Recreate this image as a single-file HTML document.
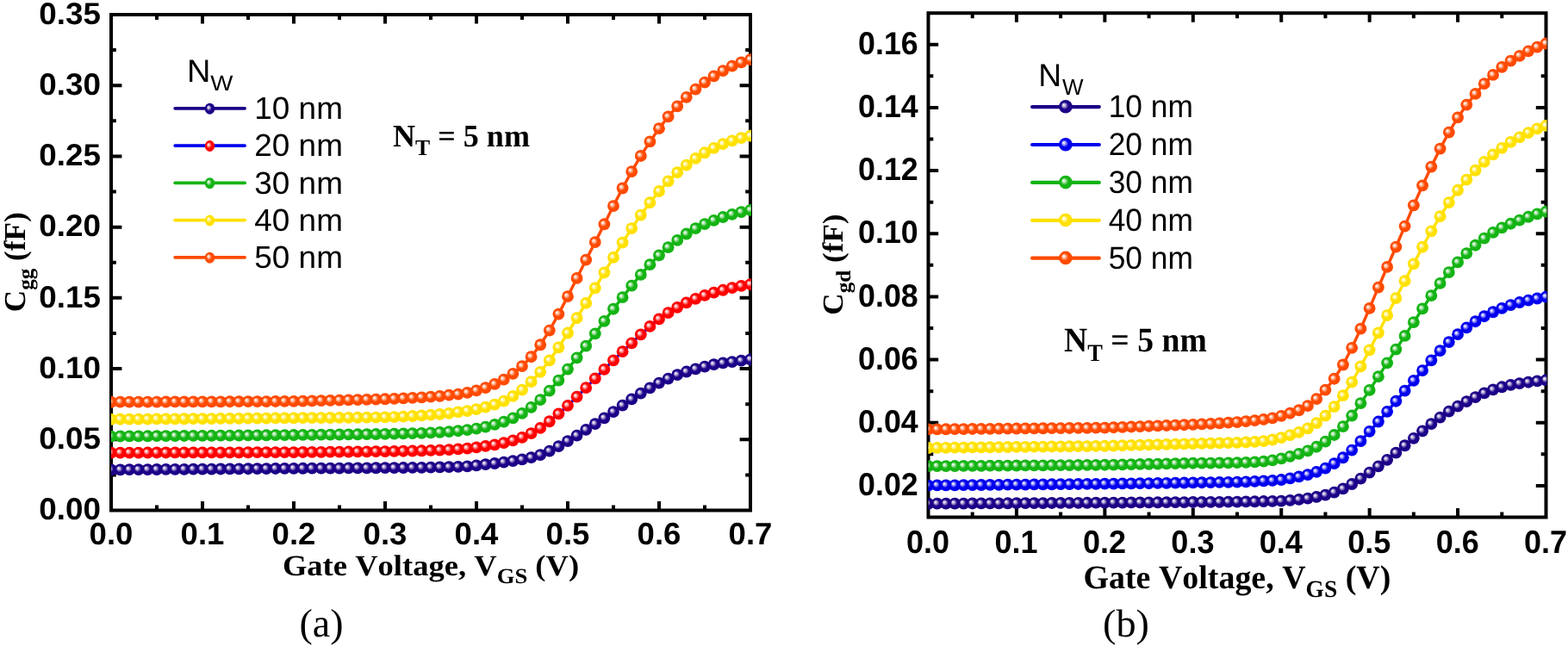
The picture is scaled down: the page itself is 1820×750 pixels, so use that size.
<!DOCTYPE html><html><head><meta charset="utf-8"><title>Cgg and Cgd vs gate voltage</title><style>html,body{margin:0;padding:0;background:#fff;overflow:hidden}svg{display:block}text{font-kerning:none;text-rendering:geometricPrecision}</style></head><body>
<svg width="1820" height="750" viewBox="0 0 1820 750">
<defs><radialGradient id="g_orange" cx="0.5" cy="0.5" r="0.5" fx="0.34" fy="0.36"><stop offset="0" stop-color="#fffaf7"/><stop offset="0.17" stop-color="#ffdbcc"/><stop offset="0.55" stop-color="#ff4a00"/><stop offset="1" stop-color="#ff4a00"/></radialGradient><radialGradient id="g_yellow" cx="0.5" cy="0.5" r="0.5" fx="0.34" fy="0.36"><stop offset="0" stop-color="#fffef7"/><stop offset="0.17" stop-color="#fff9cc"/><stop offset="0.55" stop-color="#ffe100"/><stop offset="1" stop-color="#ffe100"/></radialGradient><radialGradient id="g_green" cx="0.5" cy="0.5" r="0.5" fx="0.34" fy="0.36"><stop offset="0" stop-color="#f8fdf8"/><stop offset="0.17" stop-color="#d0f0d0"/><stop offset="0.55" stop-color="#14b414"/><stop offset="1" stop-color="#14b414"/></radialGradient><radialGradient id="g_red" cx="0.5" cy="0.5" r="0.5" fx="0.34" fy="0.36"><stop offset="0" stop-color="#fff7f7"/><stop offset="0.17" stop-color="#ffcccc"/><stop offset="0.55" stop-color="#ff0000"/><stop offset="1" stop-color="#ff0000"/></radialGradient><radialGradient id="g_blue" cx="0.5" cy="0.5" r="0.5" fx="0.34" fy="0.36"><stop offset="0" stop-color="#f7f7fe"/><stop offset="0.17" stop-color="#ccccfc"/><stop offset="0.55" stop-color="#0000ee"/><stop offset="1" stop-color="#0000ee"/></radialGradient><radialGradient id="g_navy" cx="0.5" cy="0.5" r="0.5" fx="0.34" fy="0.36"><stop offset="0" stop-color="#f8f7fb"/><stop offset="0.17" stop-color="#d2cce7"/><stop offset="0.55" stop-color="#1c0088"/><stop offset="1" stop-color="#1c0088"/></radialGradient>
<clipPath id="ca"><rect x="129" y="17" width="743" height="575.5"/></clipPath>
<clipPath id="cb"><rect x="1077.5" y="15.2" width="718.0" height="585.3"/></clipPath>
</defs>
<rect width="1820" height="750" fill="#fff"/>
<rect x="129" y="17" width="742" height="575.5" fill="none" stroke="#000" stroke-width="4.0" stroke-linejoin="miter"/><path d="M182.00 592.5V586.5M182.00 17V23M235.00 592.5V581.9M235.00 17V27.6M288.00 592.5V586.5M288.00 17V23M341.00 592.5V581.9M341.00 17V27.6M394.00 592.5V586.5M394.00 17V23M447.00 592.5V581.9M447.00 17V27.6M500.00 592.5V586.5M500.00 17V23M553.00 592.5V581.9M553.00 17V27.6M606.00 592.5V586.5M606.00 17V23M659.00 592.5V581.9M659.00 17V27.6M712.00 592.5V586.5M712.00 17V23M765.00 592.5V581.9M765.00 17V27.6M818.00 592.5V586.5M818.00 17V23M129 510.29H141.4M871 510.29H858.6M129 428.07H141.4M871 428.07H858.6M129 345.86H141.4M871 345.86H858.6M129 263.64H141.4M871 263.64H858.6M129 181.43H141.4M871 181.43H858.6M129 99.21H141.4M871 99.21H858.6M129 551.39H134.8M871 551.39H865.2M129 469.18H134.8M871 469.18H865.2M129 386.96H134.8M871 386.96H865.2M129 304.75H134.8M871 304.75H865.2M129 222.54H134.8M871 222.54H865.2M129 140.32H134.8M871 140.32H865.2M129 58.11H134.8M871 58.11H865.2" stroke="#000" stroke-width="4.0" fill="none"/>
<g clip-path="url(#ca)"><polyline points="129.00,545.33 139.60,545.28 150.20,545.21 160.80,545.14 171.40,545.07 182.00,545.00 192.60,544.93 203.20,544.86 213.80,544.79 224.40,544.72 235.00,544.65 245.60,544.57 256.20,544.49 266.80,544.41 277.40,544.32 288.00,544.24 298.60,544.16 309.20,544.08 319.80,543.99 330.40,543.91 341.00,543.83 351.60,543.77 362.20,543.71 372.80,543.65 383.40,543.59 394.00,543.53 404.60,543.46 415.20,543.39 425.80,543.33 436.40,543.25 447.00,543.17 457.60,543.10 468.20,543.01 478.80,542.91 489.40,542.79 500.00,542.63 510.60,542.43 521.20,542.17 531.80,541.83 542.40,541.31 553.00,540.32 563.60,539.15 574.20,538.00 584.80,536.68 595.40,535.18 606.00,533.42 616.60,531.20 627.20,528.05 637.80,523.65 648.40,518.20 659.00,512.06 669.60,505.53 680.20,498.86 690.80,492.16 701.40,485.29 712.00,478.09 722.60,470.61 733.20,463.42 743.80,456.69 754.40,450.44 765.00,444.62 775.60,439.55 786.20,435.21 796.80,431.52 807.40,428.34 818.00,425.54 828.60,423.17 839.20,421.43 849.80,420.09 860.40,418.70 871.00,417.30" fill="none" stroke="#1c0088" stroke-width="3.4" stroke-linejoin="round"/><circle cx="129.00" cy="545.33" r="6.9" fill="url(#g_navy)"/><circle cx="139.60" cy="545.28" r="6.9" fill="url(#g_navy)"/><circle cx="150.20" cy="545.21" r="6.9" fill="url(#g_navy)"/><circle cx="160.80" cy="545.14" r="6.9" fill="url(#g_navy)"/><circle cx="171.40" cy="545.07" r="6.9" fill="url(#g_navy)"/><circle cx="182.00" cy="545.00" r="6.9" fill="url(#g_navy)"/><circle cx="192.60" cy="544.93" r="6.9" fill="url(#g_navy)"/><circle cx="203.20" cy="544.86" r="6.9" fill="url(#g_navy)"/><circle cx="213.80" cy="544.79" r="6.9" fill="url(#g_navy)"/><circle cx="224.40" cy="544.72" r="6.9" fill="url(#g_navy)"/><circle cx="235.00" cy="544.65" r="6.9" fill="url(#g_navy)"/><circle cx="245.60" cy="544.57" r="6.9" fill="url(#g_navy)"/><circle cx="256.20" cy="544.49" r="6.9" fill="url(#g_navy)"/><circle cx="266.80" cy="544.41" r="6.9" fill="url(#g_navy)"/><circle cx="277.40" cy="544.32" r="6.9" fill="url(#g_navy)"/><circle cx="288.00" cy="544.24" r="6.9" fill="url(#g_navy)"/><circle cx="298.60" cy="544.16" r="6.9" fill="url(#g_navy)"/><circle cx="309.20" cy="544.08" r="6.9" fill="url(#g_navy)"/><circle cx="319.80" cy="543.99" r="6.9" fill="url(#g_navy)"/><circle cx="330.40" cy="543.91" r="6.9" fill="url(#g_navy)"/><circle cx="341.00" cy="543.83" r="6.9" fill="url(#g_navy)"/><circle cx="351.60" cy="543.77" r="6.9" fill="url(#g_navy)"/><circle cx="362.20" cy="543.71" r="6.9" fill="url(#g_navy)"/><circle cx="372.80" cy="543.65" r="6.9" fill="url(#g_navy)"/><circle cx="383.40" cy="543.59" r="6.9" fill="url(#g_navy)"/><circle cx="394.00" cy="543.53" r="6.9" fill="url(#g_navy)"/><circle cx="404.60" cy="543.46" r="6.9" fill="url(#g_navy)"/><circle cx="415.20" cy="543.39" r="6.9" fill="url(#g_navy)"/><circle cx="425.80" cy="543.33" r="6.9" fill="url(#g_navy)"/><circle cx="436.40" cy="543.25" r="6.9" fill="url(#g_navy)"/><circle cx="447.00" cy="543.17" r="6.9" fill="url(#g_navy)"/><circle cx="457.60" cy="543.10" r="6.9" fill="url(#g_navy)"/><circle cx="468.20" cy="543.01" r="6.9" fill="url(#g_navy)"/><circle cx="478.80" cy="542.91" r="6.9" fill="url(#g_navy)"/><circle cx="489.40" cy="542.79" r="6.9" fill="url(#g_navy)"/><circle cx="500.00" cy="542.63" r="6.9" fill="url(#g_navy)"/><circle cx="510.60" cy="542.43" r="6.9" fill="url(#g_navy)"/><circle cx="521.20" cy="542.17" r="6.9" fill="url(#g_navy)"/><circle cx="531.80" cy="541.83" r="6.9" fill="url(#g_navy)"/><circle cx="542.40" cy="541.31" r="6.9" fill="url(#g_navy)"/><circle cx="553.00" cy="540.32" r="6.9" fill="url(#g_navy)"/><circle cx="563.60" cy="539.15" r="6.9" fill="url(#g_navy)"/><circle cx="574.20" cy="538.00" r="6.9" fill="url(#g_navy)"/><circle cx="584.80" cy="536.68" r="6.9" fill="url(#g_navy)"/><circle cx="595.40" cy="535.18" r="6.9" fill="url(#g_navy)"/><circle cx="606.00" cy="533.42" r="6.9" fill="url(#g_navy)"/><circle cx="616.60" cy="531.20" r="6.9" fill="url(#g_navy)"/><circle cx="627.20" cy="528.05" r="6.9" fill="url(#g_navy)"/><circle cx="637.80" cy="523.65" r="6.9" fill="url(#g_navy)"/><circle cx="648.40" cy="518.20" r="6.9" fill="url(#g_navy)"/><circle cx="659.00" cy="512.06" r="6.9" fill="url(#g_navy)"/><circle cx="669.60" cy="505.53" r="6.9" fill="url(#g_navy)"/><circle cx="680.20" cy="498.86" r="6.9" fill="url(#g_navy)"/><circle cx="690.80" cy="492.16" r="6.9" fill="url(#g_navy)"/><circle cx="701.40" cy="485.29" r="6.9" fill="url(#g_navy)"/><circle cx="712.00" cy="478.09" r="6.9" fill="url(#g_navy)"/><circle cx="722.60" cy="470.61" r="6.9" fill="url(#g_navy)"/><circle cx="733.20" cy="463.42" r="6.9" fill="url(#g_navy)"/><circle cx="743.80" cy="456.69" r="6.9" fill="url(#g_navy)"/><circle cx="754.40" cy="450.44" r="6.9" fill="url(#g_navy)"/><circle cx="765.00" cy="444.62" r="6.9" fill="url(#g_navy)"/><circle cx="775.60" cy="439.55" r="6.9" fill="url(#g_navy)"/><circle cx="786.20" cy="435.21" r="6.9" fill="url(#g_navy)"/><circle cx="796.80" cy="431.52" r="6.9" fill="url(#g_navy)"/><circle cx="807.40" cy="428.34" r="6.9" fill="url(#g_navy)"/><circle cx="818.00" cy="425.54" r="6.9" fill="url(#g_navy)"/><circle cx="828.60" cy="423.17" r="6.9" fill="url(#g_navy)"/><circle cx="839.20" cy="421.43" r="6.9" fill="url(#g_navy)"/><circle cx="849.80" cy="420.09" r="6.9" fill="url(#g_navy)"/><circle cx="860.40" cy="418.70" r="6.9" fill="url(#g_navy)"/><circle cx="871.00" cy="417.30" r="6.9" fill="url(#g_navy)"/></g>
<g clip-path="url(#ca)"><polyline points="129.00,525.60 139.60,525.56 150.20,525.54 160.80,525.53 171.40,525.51 182.00,525.49 192.60,525.48 203.20,525.46 213.80,525.45 224.40,525.43 235.00,525.41 245.60,525.38 256.20,525.35 266.80,525.31 277.40,525.28 288.00,525.25 298.60,525.22 309.20,525.18 319.80,525.15 330.40,525.12 341.00,525.08 351.60,524.99 362.20,524.90 372.80,524.81 383.40,524.72 394.00,524.62 404.60,524.52 415.20,524.43 425.80,524.32 436.40,524.21 447.00,524.10 457.60,523.93 468.20,523.74 478.80,523.52 489.40,523.27 500.00,522.97 510.60,522.58 521.20,522.09 531.80,521.45 542.40,520.60 553.00,519.47 563.60,517.97 574.20,516.30 584.80,514.17 595.40,511.37 606.00,507.79 616.60,503.11 627.20,496.93 637.80,489.25 648.40,480.47 659.00,470.87 669.60,460.70 680.20,450.16 690.80,439.41 701.40,428.82 712.00,418.37 722.60,408.19 733.20,398.33 743.80,388.36 754.40,378.95 765.00,370.44 775.60,363.13 786.20,356.86 796.80,351.41 807.40,346.79 818.00,342.92 828.60,339.70 839.20,336.76 849.80,334.14 860.40,331.96 871.00,330.09" fill="none" stroke="#0000ee" stroke-width="3.4" stroke-linejoin="round"/><circle cx="129.00" cy="525.60" r="6.9" fill="url(#g_red)"/><circle cx="139.60" cy="525.56" r="6.9" fill="url(#g_red)"/><circle cx="150.20" cy="525.54" r="6.9" fill="url(#g_red)"/><circle cx="160.80" cy="525.53" r="6.9" fill="url(#g_red)"/><circle cx="171.40" cy="525.51" r="6.9" fill="url(#g_red)"/><circle cx="182.00" cy="525.49" r="6.9" fill="url(#g_red)"/><circle cx="192.60" cy="525.48" r="6.9" fill="url(#g_red)"/><circle cx="203.20" cy="525.46" r="6.9" fill="url(#g_red)"/><circle cx="213.80" cy="525.45" r="6.9" fill="url(#g_red)"/><circle cx="224.40" cy="525.43" r="6.9" fill="url(#g_red)"/><circle cx="235.00" cy="525.41" r="6.9" fill="url(#g_red)"/><circle cx="245.60" cy="525.38" r="6.9" fill="url(#g_red)"/><circle cx="256.20" cy="525.35" r="6.9" fill="url(#g_red)"/><circle cx="266.80" cy="525.31" r="6.9" fill="url(#g_red)"/><circle cx="277.40" cy="525.28" r="6.9" fill="url(#g_red)"/><circle cx="288.00" cy="525.25" r="6.9" fill="url(#g_red)"/><circle cx="298.60" cy="525.22" r="6.9" fill="url(#g_red)"/><circle cx="309.20" cy="525.18" r="6.9" fill="url(#g_red)"/><circle cx="319.80" cy="525.15" r="6.9" fill="url(#g_red)"/><circle cx="330.40" cy="525.12" r="6.9" fill="url(#g_red)"/><circle cx="341.00" cy="525.08" r="6.9" fill="url(#g_red)"/><circle cx="351.60" cy="524.99" r="6.9" fill="url(#g_red)"/><circle cx="362.20" cy="524.90" r="6.9" fill="url(#g_red)"/><circle cx="372.80" cy="524.81" r="6.9" fill="url(#g_red)"/><circle cx="383.40" cy="524.72" r="6.9" fill="url(#g_red)"/><circle cx="394.00" cy="524.62" r="6.9" fill="url(#g_red)"/><circle cx="404.60" cy="524.52" r="6.9" fill="url(#g_red)"/><circle cx="415.20" cy="524.43" r="6.9" fill="url(#g_red)"/><circle cx="425.80" cy="524.32" r="6.9" fill="url(#g_red)"/><circle cx="436.40" cy="524.21" r="6.9" fill="url(#g_red)"/><circle cx="447.00" cy="524.10" r="6.9" fill="url(#g_red)"/><circle cx="457.60" cy="523.93" r="6.9" fill="url(#g_red)"/><circle cx="468.20" cy="523.74" r="6.9" fill="url(#g_red)"/><circle cx="478.80" cy="523.52" r="6.9" fill="url(#g_red)"/><circle cx="489.40" cy="523.27" r="6.9" fill="url(#g_red)"/><circle cx="500.00" cy="522.97" r="6.9" fill="url(#g_red)"/><circle cx="510.60" cy="522.58" r="6.9" fill="url(#g_red)"/><circle cx="521.20" cy="522.09" r="6.9" fill="url(#g_red)"/><circle cx="531.80" cy="521.45" r="6.9" fill="url(#g_red)"/><circle cx="542.40" cy="520.60" r="6.9" fill="url(#g_red)"/><circle cx="553.00" cy="519.47" r="6.9" fill="url(#g_red)"/><circle cx="563.60" cy="517.97" r="6.9" fill="url(#g_red)"/><circle cx="574.20" cy="516.30" r="6.9" fill="url(#g_red)"/><circle cx="584.80" cy="514.17" r="6.9" fill="url(#g_red)"/><circle cx="595.40" cy="511.37" r="6.9" fill="url(#g_red)"/><circle cx="606.00" cy="507.79" r="6.9" fill="url(#g_red)"/><circle cx="616.60" cy="503.11" r="6.9" fill="url(#g_red)"/><circle cx="627.20" cy="496.93" r="6.9" fill="url(#g_red)"/><circle cx="637.80" cy="489.25" r="6.9" fill="url(#g_red)"/><circle cx="648.40" cy="480.47" r="6.9" fill="url(#g_red)"/><circle cx="659.00" cy="470.87" r="6.9" fill="url(#g_red)"/><circle cx="669.60" cy="460.70" r="6.9" fill="url(#g_red)"/><circle cx="680.20" cy="450.16" r="6.9" fill="url(#g_red)"/><circle cx="690.80" cy="439.41" r="6.9" fill="url(#g_red)"/><circle cx="701.40" cy="428.82" r="6.9" fill="url(#g_red)"/><circle cx="712.00" cy="418.37" r="6.9" fill="url(#g_red)"/><circle cx="722.60" cy="408.19" r="6.9" fill="url(#g_red)"/><circle cx="733.20" cy="398.33" r="6.9" fill="url(#g_red)"/><circle cx="743.80" cy="388.36" r="6.9" fill="url(#g_red)"/><circle cx="754.40" cy="378.95" r="6.9" fill="url(#g_red)"/><circle cx="765.00" cy="370.44" r="6.9" fill="url(#g_red)"/><circle cx="775.60" cy="363.13" r="6.9" fill="url(#g_red)"/><circle cx="786.20" cy="356.86" r="6.9" fill="url(#g_red)"/><circle cx="796.80" cy="351.41" r="6.9" fill="url(#g_red)"/><circle cx="807.40" cy="346.79" r="6.9" fill="url(#g_red)"/><circle cx="818.00" cy="342.92" r="6.9" fill="url(#g_red)"/><circle cx="828.60" cy="339.70" r="6.9" fill="url(#g_red)"/><circle cx="839.20" cy="336.76" r="6.9" fill="url(#g_red)"/><circle cx="849.80" cy="334.14" r="6.9" fill="url(#g_red)"/><circle cx="860.40" cy="331.96" r="6.9" fill="url(#g_red)"/><circle cx="871.00" cy="330.09" r="6.9" fill="url(#g_red)"/></g>
<g clip-path="url(#ca)"><polyline points="129.00,506.53 139.60,506.48 150.20,506.41 160.80,506.34 171.40,506.27 182.00,506.20 192.60,506.13 203.20,506.06 213.80,505.99 224.40,505.92 235.00,505.85 245.60,505.76 256.20,505.68 266.80,505.60 277.40,505.52 288.00,505.44 298.60,505.35 309.20,505.27 319.80,505.19 330.40,505.11 341.00,505.02 351.60,504.92 362.20,504.82 372.80,504.71 383.40,504.61 394.00,504.50 404.60,504.39 415.20,504.27 425.80,504.15 436.40,504.02 447.00,503.87 457.60,503.67 468.20,503.44 478.80,503.16 489.40,502.83 500.00,502.41 510.60,501.87 521.20,501.17 531.80,500.24 542.40,499.04 553.00,497.56 563.60,495.56 574.20,492.93 584.80,489.63 595.40,485.40 606.00,479.90 616.60,472.86 627.20,464.14 637.80,453.69 648.40,441.59 659.00,428.55 669.60,415.35 680.20,401.69 690.80,387.29 701.40,372.78 712.00,358.73 722.60,345.14 733.20,331.65 743.80,318.96 754.40,307.15 765.00,296.41 775.60,287.14 786.20,278.94 796.80,271.50 807.40,265.22 818.00,260.09 828.60,255.78 839.20,252.02 849.80,248.81 860.40,246.13 871.00,243.87" fill="none" stroke="#14b414" stroke-width="3.4" stroke-linejoin="round"/><circle cx="129.00" cy="506.53" r="6.9" fill="url(#g_green)"/><circle cx="139.60" cy="506.48" r="6.9" fill="url(#g_green)"/><circle cx="150.20" cy="506.41" r="6.9" fill="url(#g_green)"/><circle cx="160.80" cy="506.34" r="6.9" fill="url(#g_green)"/><circle cx="171.40" cy="506.27" r="6.9" fill="url(#g_green)"/><circle cx="182.00" cy="506.20" r="6.9" fill="url(#g_green)"/><circle cx="192.60" cy="506.13" r="6.9" fill="url(#g_green)"/><circle cx="203.20" cy="506.06" r="6.9" fill="url(#g_green)"/><circle cx="213.80" cy="505.99" r="6.9" fill="url(#g_green)"/><circle cx="224.40" cy="505.92" r="6.9" fill="url(#g_green)"/><circle cx="235.00" cy="505.85" r="6.9" fill="url(#g_green)"/><circle cx="245.60" cy="505.76" r="6.9" fill="url(#g_green)"/><circle cx="256.20" cy="505.68" r="6.9" fill="url(#g_green)"/><circle cx="266.80" cy="505.60" r="6.9" fill="url(#g_green)"/><circle cx="277.40" cy="505.52" r="6.9" fill="url(#g_green)"/><circle cx="288.00" cy="505.44" r="6.9" fill="url(#g_green)"/><circle cx="298.60" cy="505.35" r="6.9" fill="url(#g_green)"/><circle cx="309.20" cy="505.27" r="6.9" fill="url(#g_green)"/><circle cx="319.80" cy="505.19" r="6.9" fill="url(#g_green)"/><circle cx="330.40" cy="505.11" r="6.9" fill="url(#g_green)"/><circle cx="341.00" cy="505.02" r="6.9" fill="url(#g_green)"/><circle cx="351.60" cy="504.92" r="6.9" fill="url(#g_green)"/><circle cx="362.20" cy="504.82" r="6.9" fill="url(#g_green)"/><circle cx="372.80" cy="504.71" r="6.9" fill="url(#g_green)"/><circle cx="383.40" cy="504.61" r="6.9" fill="url(#g_green)"/><circle cx="394.00" cy="504.50" r="6.9" fill="url(#g_green)"/><circle cx="404.60" cy="504.39" r="6.9" fill="url(#g_green)"/><circle cx="415.20" cy="504.27" r="6.9" fill="url(#g_green)"/><circle cx="425.80" cy="504.15" r="6.9" fill="url(#g_green)"/><circle cx="436.40" cy="504.02" r="6.9" fill="url(#g_green)"/><circle cx="447.00" cy="503.87" r="6.9" fill="url(#g_green)"/><circle cx="457.60" cy="503.67" r="6.9" fill="url(#g_green)"/><circle cx="468.20" cy="503.44" r="6.9" fill="url(#g_green)"/><circle cx="478.80" cy="503.16" r="6.9" fill="url(#g_green)"/><circle cx="489.40" cy="502.83" r="6.9" fill="url(#g_green)"/><circle cx="500.00" cy="502.41" r="6.9" fill="url(#g_green)"/><circle cx="510.60" cy="501.87" r="6.9" fill="url(#g_green)"/><circle cx="521.20" cy="501.17" r="6.9" fill="url(#g_green)"/><circle cx="531.80" cy="500.24" r="6.9" fill="url(#g_green)"/><circle cx="542.40" cy="499.04" r="6.9" fill="url(#g_green)"/><circle cx="553.00" cy="497.56" r="6.9" fill="url(#g_green)"/><circle cx="563.60" cy="495.56" r="6.9" fill="url(#g_green)"/><circle cx="574.20" cy="492.93" r="6.9" fill="url(#g_green)"/><circle cx="584.80" cy="489.63" r="6.9" fill="url(#g_green)"/><circle cx="595.40" cy="485.40" r="6.9" fill="url(#g_green)"/><circle cx="606.00" cy="479.90" r="6.9" fill="url(#g_green)"/><circle cx="616.60" cy="472.86" r="6.9" fill="url(#g_green)"/><circle cx="627.20" cy="464.14" r="6.9" fill="url(#g_green)"/><circle cx="637.80" cy="453.69" r="6.9" fill="url(#g_green)"/><circle cx="648.40" cy="441.59" r="6.9" fill="url(#g_green)"/><circle cx="659.00" cy="428.55" r="6.9" fill="url(#g_green)"/><circle cx="669.60" cy="415.35" r="6.9" fill="url(#g_green)"/><circle cx="680.20" cy="401.69" r="6.9" fill="url(#g_green)"/><circle cx="690.80" cy="387.29" r="6.9" fill="url(#g_green)"/><circle cx="701.40" cy="372.78" r="6.9" fill="url(#g_green)"/><circle cx="712.00" cy="358.73" r="6.9" fill="url(#g_green)"/><circle cx="722.60" cy="345.14" r="6.9" fill="url(#g_green)"/><circle cx="733.20" cy="331.65" r="6.9" fill="url(#g_green)"/><circle cx="743.80" cy="318.96" r="6.9" fill="url(#g_green)"/><circle cx="754.40" cy="307.15" r="6.9" fill="url(#g_green)"/><circle cx="765.00" cy="296.41" r="6.9" fill="url(#g_green)"/><circle cx="775.60" cy="287.14" r="6.9" fill="url(#g_green)"/><circle cx="786.20" cy="278.94" r="6.9" fill="url(#g_green)"/><circle cx="796.80" cy="271.50" r="6.9" fill="url(#g_green)"/><circle cx="807.40" cy="265.22" r="6.9" fill="url(#g_green)"/><circle cx="818.00" cy="260.09" r="6.9" fill="url(#g_green)"/><circle cx="828.60" cy="255.78" r="6.9" fill="url(#g_green)"/><circle cx="839.20" cy="252.02" r="6.9" fill="url(#g_green)"/><circle cx="849.80" cy="248.81" r="6.9" fill="url(#g_green)"/><circle cx="860.40" cy="246.13" r="6.9" fill="url(#g_green)"/><circle cx="871.00" cy="243.87" r="6.9" fill="url(#g_green)"/></g>
<g clip-path="url(#ca)"><polyline points="129.00,486.81 139.60,486.73 150.20,486.66 160.80,486.59 171.40,486.53 182.00,486.46 192.60,486.39 203.20,486.32 213.80,486.25 224.40,486.18 235.00,486.11 245.60,486.03 256.20,485.95 266.80,485.87 277.40,485.79 288.00,485.70 298.60,485.62 309.20,485.54 319.80,485.46 330.40,485.38 341.00,485.29 351.60,485.22 362.20,485.15 372.80,485.08 383.40,485.01 394.00,484.93 404.60,484.86 415.20,484.77 425.80,484.68 436.40,484.59 447.00,484.47 457.60,484.03 468.20,483.55 478.80,483.02 489.40,482.43 500.00,481.72 510.60,480.87 521.20,479.81 531.80,478.46 542.40,477.03 553.00,475.14 563.60,472.71 574.20,469.63 584.80,465.53 595.40,459.97 606.00,452.57 616.60,443.19 627.20,431.80 637.80,418.47 648.40,403.32 659.00,386.51 669.60,369.24 680.20,351.97 690.80,334.35 701.40,316.48 712.00,298.92 722.60,281.72 733.20,265.11 743.80,249.65 754.40,235.24 765.00,222.02 775.60,210.28 786.20,200.24 796.80,191.67 807.40,183.97 818.00,177.27 828.60,171.82 839.20,167.19 849.80,163.28 860.40,160.18 871.00,157.62" fill="none" stroke="#ffe100" stroke-width="3.4" stroke-linejoin="round"/><circle cx="129.00" cy="486.81" r="6.9" fill="url(#g_yellow)"/><circle cx="139.60" cy="486.73" r="6.9" fill="url(#g_yellow)"/><circle cx="150.20" cy="486.66" r="6.9" fill="url(#g_yellow)"/><circle cx="160.80" cy="486.59" r="6.9" fill="url(#g_yellow)"/><circle cx="171.40" cy="486.53" r="6.9" fill="url(#g_yellow)"/><circle cx="182.00" cy="486.46" r="6.9" fill="url(#g_yellow)"/><circle cx="192.60" cy="486.39" r="6.9" fill="url(#g_yellow)"/><circle cx="203.20" cy="486.32" r="6.9" fill="url(#g_yellow)"/><circle cx="213.80" cy="486.25" r="6.9" fill="url(#g_yellow)"/><circle cx="224.40" cy="486.18" r="6.9" fill="url(#g_yellow)"/><circle cx="235.00" cy="486.11" r="6.9" fill="url(#g_yellow)"/><circle cx="245.60" cy="486.03" r="6.9" fill="url(#g_yellow)"/><circle cx="256.20" cy="485.95" r="6.9" fill="url(#g_yellow)"/><circle cx="266.80" cy="485.87" r="6.9" fill="url(#g_yellow)"/><circle cx="277.40" cy="485.79" r="6.9" fill="url(#g_yellow)"/><circle cx="288.00" cy="485.70" r="6.9" fill="url(#g_yellow)"/><circle cx="298.60" cy="485.62" r="6.9" fill="url(#g_yellow)"/><circle cx="309.20" cy="485.54" r="6.9" fill="url(#g_yellow)"/><circle cx="319.80" cy="485.46" r="6.9" fill="url(#g_yellow)"/><circle cx="330.40" cy="485.38" r="6.9" fill="url(#g_yellow)"/><circle cx="341.00" cy="485.29" r="6.9" fill="url(#g_yellow)"/><circle cx="351.60" cy="485.22" r="6.9" fill="url(#g_yellow)"/><circle cx="362.20" cy="485.15" r="6.9" fill="url(#g_yellow)"/><circle cx="372.80" cy="485.08" r="6.9" fill="url(#g_yellow)"/><circle cx="383.40" cy="485.01" r="6.9" fill="url(#g_yellow)"/><circle cx="394.00" cy="484.93" r="6.9" fill="url(#g_yellow)"/><circle cx="404.60" cy="484.86" r="6.9" fill="url(#g_yellow)"/><circle cx="415.20" cy="484.77" r="6.9" fill="url(#g_yellow)"/><circle cx="425.80" cy="484.68" r="6.9" fill="url(#g_yellow)"/><circle cx="436.40" cy="484.59" r="6.9" fill="url(#g_yellow)"/><circle cx="447.00" cy="484.47" r="6.9" fill="url(#g_yellow)"/><circle cx="457.60" cy="484.03" r="6.9" fill="url(#g_yellow)"/><circle cx="468.20" cy="483.55" r="6.9" fill="url(#g_yellow)"/><circle cx="478.80" cy="483.02" r="6.9" fill="url(#g_yellow)"/><circle cx="489.40" cy="482.43" r="6.9" fill="url(#g_yellow)"/><circle cx="500.00" cy="481.72" r="6.9" fill="url(#g_yellow)"/><circle cx="510.60" cy="480.87" r="6.9" fill="url(#g_yellow)"/><circle cx="521.20" cy="479.81" r="6.9" fill="url(#g_yellow)"/><circle cx="531.80" cy="478.46" r="6.9" fill="url(#g_yellow)"/><circle cx="542.40" cy="477.03" r="6.9" fill="url(#g_yellow)"/><circle cx="553.00" cy="475.14" r="6.9" fill="url(#g_yellow)"/><circle cx="563.60" cy="472.71" r="6.9" fill="url(#g_yellow)"/><circle cx="574.20" cy="469.63" r="6.9" fill="url(#g_yellow)"/><circle cx="584.80" cy="465.53" r="6.9" fill="url(#g_yellow)"/><circle cx="595.40" cy="459.97" r="6.9" fill="url(#g_yellow)"/><circle cx="606.00" cy="452.57" r="6.9" fill="url(#g_yellow)"/><circle cx="616.60" cy="443.19" r="6.9" fill="url(#g_yellow)"/><circle cx="627.20" cy="431.80" r="6.9" fill="url(#g_yellow)"/><circle cx="637.80" cy="418.47" r="6.9" fill="url(#g_yellow)"/><circle cx="648.40" cy="403.32" r="6.9" fill="url(#g_yellow)"/><circle cx="659.00" cy="386.51" r="6.9" fill="url(#g_yellow)"/><circle cx="669.60" cy="369.24" r="6.9" fill="url(#g_yellow)"/><circle cx="680.20" cy="351.97" r="6.9" fill="url(#g_yellow)"/><circle cx="690.80" cy="334.35" r="6.9" fill="url(#g_yellow)"/><circle cx="701.40" cy="316.48" r="6.9" fill="url(#g_yellow)"/><circle cx="712.00" cy="298.92" r="6.9" fill="url(#g_yellow)"/><circle cx="722.60" cy="281.72" r="6.9" fill="url(#g_yellow)"/><circle cx="733.20" cy="265.11" r="6.9" fill="url(#g_yellow)"/><circle cx="743.80" cy="249.65" r="6.9" fill="url(#g_yellow)"/><circle cx="754.40" cy="235.24" r="6.9" fill="url(#g_yellow)"/><circle cx="765.00" cy="222.02" r="6.9" fill="url(#g_yellow)"/><circle cx="775.60" cy="210.28" r="6.9" fill="url(#g_yellow)"/><circle cx="786.20" cy="200.24" r="6.9" fill="url(#g_yellow)"/><circle cx="796.80" cy="191.67" r="6.9" fill="url(#g_yellow)"/><circle cx="807.40" cy="183.97" r="6.9" fill="url(#g_yellow)"/><circle cx="818.00" cy="177.27" r="6.9" fill="url(#g_yellow)"/><circle cx="828.60" cy="171.82" r="6.9" fill="url(#g_yellow)"/><circle cx="839.20" cy="167.19" r="6.9" fill="url(#g_yellow)"/><circle cx="849.80" cy="163.28" r="6.9" fill="url(#g_yellow)"/><circle cx="860.40" cy="160.18" r="6.9" fill="url(#g_yellow)"/><circle cx="871.00" cy="157.62" r="6.9" fill="url(#g_yellow)"/></g>
<g clip-path="url(#ca)"><polyline points="129.00,466.77 139.60,466.65 150.20,466.62 160.80,466.59 171.40,466.56 182.00,466.53 192.60,466.50 203.20,466.47 213.80,466.44 224.40,466.41 235.00,466.38 245.60,466.33 256.20,466.28 266.80,466.24 277.40,466.19 288.00,466.14 298.60,466.09 309.20,466.04 319.80,465.99 330.40,465.94 341.00,465.89 351.60,465.63 362.20,465.38 372.80,465.12 383.40,464.86 394.00,464.60 404.60,464.34 415.20,464.08 425.80,463.81 436.40,463.54 447.00,463.26 457.60,462.82 468.20,462.35 478.80,461.85 489.40,461.28 500.00,460.60 510.60,459.78 521.20,458.72 531.80,457.61 542.40,455.92 553.00,453.41 563.60,450.07 574.20,445.88 584.80,440.63 595.40,433.78 606.00,425.08 616.60,414.24 627.20,400.25 637.80,383.54 648.40,364.59 659.00,344.15 669.60,322.90 680.20,301.70 690.80,281.10 701.40,260.27 712.00,239.08 722.60,218.50 733.20,199.03 743.80,180.98 754.40,164.42 765.00,149.13 775.60,135.47 786.20,123.42 796.80,112.78 807.40,103.62 818.00,95.62 828.60,88.44 839.20,82.06 849.80,76.68 860.40,72.45 871.00,69.10" fill="none" stroke="#ff4a00" stroke-width="3.4" stroke-linejoin="round"/><circle cx="129.00" cy="466.77" r="6.9" fill="url(#g_orange)"/><circle cx="139.60" cy="466.65" r="6.9" fill="url(#g_orange)"/><circle cx="150.20" cy="466.62" r="6.9" fill="url(#g_orange)"/><circle cx="160.80" cy="466.59" r="6.9" fill="url(#g_orange)"/><circle cx="171.40" cy="466.56" r="6.9" fill="url(#g_orange)"/><circle cx="182.00" cy="466.53" r="6.9" fill="url(#g_orange)"/><circle cx="192.60" cy="466.50" r="6.9" fill="url(#g_orange)"/><circle cx="203.20" cy="466.47" r="6.9" fill="url(#g_orange)"/><circle cx="213.80" cy="466.44" r="6.9" fill="url(#g_orange)"/><circle cx="224.40" cy="466.41" r="6.9" fill="url(#g_orange)"/><circle cx="235.00" cy="466.38" r="6.9" fill="url(#g_orange)"/><circle cx="245.60" cy="466.33" r="6.9" fill="url(#g_orange)"/><circle cx="256.20" cy="466.28" r="6.9" fill="url(#g_orange)"/><circle cx="266.80" cy="466.24" r="6.9" fill="url(#g_orange)"/><circle cx="277.40" cy="466.19" r="6.9" fill="url(#g_orange)"/><circle cx="288.00" cy="466.14" r="6.9" fill="url(#g_orange)"/><circle cx="298.60" cy="466.09" r="6.9" fill="url(#g_orange)"/><circle cx="309.20" cy="466.04" r="6.9" fill="url(#g_orange)"/><circle cx="319.80" cy="465.99" r="6.9" fill="url(#g_orange)"/><circle cx="330.40" cy="465.94" r="6.9" fill="url(#g_orange)"/><circle cx="341.00" cy="465.89" r="6.9" fill="url(#g_orange)"/><circle cx="351.60" cy="465.63" r="6.9" fill="url(#g_orange)"/><circle cx="362.20" cy="465.38" r="6.9" fill="url(#g_orange)"/><circle cx="372.80" cy="465.12" r="6.9" fill="url(#g_orange)"/><circle cx="383.40" cy="464.86" r="6.9" fill="url(#g_orange)"/><circle cx="394.00" cy="464.60" r="6.9" fill="url(#g_orange)"/><circle cx="404.60" cy="464.34" r="6.9" fill="url(#g_orange)"/><circle cx="415.20" cy="464.08" r="6.9" fill="url(#g_orange)"/><circle cx="425.80" cy="463.81" r="6.9" fill="url(#g_orange)"/><circle cx="436.40" cy="463.54" r="6.9" fill="url(#g_orange)"/><circle cx="447.00" cy="463.26" r="6.9" fill="url(#g_orange)"/><circle cx="457.60" cy="462.82" r="6.9" fill="url(#g_orange)"/><circle cx="468.20" cy="462.35" r="6.9" fill="url(#g_orange)"/><circle cx="478.80" cy="461.85" r="6.9" fill="url(#g_orange)"/><circle cx="489.40" cy="461.28" r="6.9" fill="url(#g_orange)"/><circle cx="500.00" cy="460.60" r="6.9" fill="url(#g_orange)"/><circle cx="510.60" cy="459.78" r="6.9" fill="url(#g_orange)"/><circle cx="521.20" cy="458.72" r="6.9" fill="url(#g_orange)"/><circle cx="531.80" cy="457.61" r="6.9" fill="url(#g_orange)"/><circle cx="542.40" cy="455.92" r="6.9" fill="url(#g_orange)"/><circle cx="553.00" cy="453.41" r="6.9" fill="url(#g_orange)"/><circle cx="563.60" cy="450.07" r="6.9" fill="url(#g_orange)"/><circle cx="574.20" cy="445.88" r="6.9" fill="url(#g_orange)"/><circle cx="584.80" cy="440.63" r="6.9" fill="url(#g_orange)"/><circle cx="595.40" cy="433.78" r="6.9" fill="url(#g_orange)"/><circle cx="606.00" cy="425.08" r="6.9" fill="url(#g_orange)"/><circle cx="616.60" cy="414.24" r="6.9" fill="url(#g_orange)"/><circle cx="627.20" cy="400.25" r="6.9" fill="url(#g_orange)"/><circle cx="637.80" cy="383.54" r="6.9" fill="url(#g_orange)"/><circle cx="648.40" cy="364.59" r="6.9" fill="url(#g_orange)"/><circle cx="659.00" cy="344.15" r="6.9" fill="url(#g_orange)"/><circle cx="669.60" cy="322.90" r="6.9" fill="url(#g_orange)"/><circle cx="680.20" cy="301.70" r="6.9" fill="url(#g_orange)"/><circle cx="690.80" cy="281.10" r="6.9" fill="url(#g_orange)"/><circle cx="701.40" cy="260.27" r="6.9" fill="url(#g_orange)"/><circle cx="712.00" cy="239.08" r="6.9" fill="url(#g_orange)"/><circle cx="722.60" cy="218.50" r="6.9" fill="url(#g_orange)"/><circle cx="733.20" cy="199.03" r="6.9" fill="url(#g_orange)"/><circle cx="743.80" cy="180.98" r="6.9" fill="url(#g_orange)"/><circle cx="754.40" cy="164.42" r="6.9" fill="url(#g_orange)"/><circle cx="765.00" cy="149.13" r="6.9" fill="url(#g_orange)"/><circle cx="775.60" cy="135.47" r="6.9" fill="url(#g_orange)"/><circle cx="786.20" cy="123.42" r="6.9" fill="url(#g_orange)"/><circle cx="796.80" cy="112.78" r="6.9" fill="url(#g_orange)"/><circle cx="807.40" cy="103.62" r="6.9" fill="url(#g_orange)"/><circle cx="818.00" cy="95.62" r="6.9" fill="url(#g_orange)"/><circle cx="828.60" cy="88.44" r="6.9" fill="url(#g_orange)"/><circle cx="839.20" cy="82.06" r="6.9" fill="url(#g_orange)"/><circle cx="849.80" cy="76.68" r="6.9" fill="url(#g_orange)"/><circle cx="860.40" cy="72.45" r="6.9" fill="url(#g_orange)"/><circle cx="871.00" cy="69.10" r="6.9" fill="url(#g_orange)"/></g>
<text transform="translate(116.95,603.30) scale(1.0220,0.9900)" text-anchor="end" style="font-family:&quot;Liberation Sans&quot;,Arial,sans-serif;font-weight:bold;font-size:36px">0.00</text>
<text transform="translate(116.95,521.09) scale(1.0220,0.9900)" text-anchor="end" style="font-family:&quot;Liberation Sans&quot;,Arial,sans-serif;font-weight:bold;font-size:36px">0.05</text>
<text transform="translate(116.95,438.87) scale(1.0220,0.9900)" text-anchor="end" style="font-family:&quot;Liberation Sans&quot;,Arial,sans-serif;font-weight:bold;font-size:36px">0.10</text>
<text transform="translate(116.95,356.66) scale(1.0220,0.9900)" text-anchor="end" style="font-family:&quot;Liberation Sans&quot;,Arial,sans-serif;font-weight:bold;font-size:36px">0.15</text>
<text transform="translate(116.95,274.44) scale(1.0220,0.9900)" text-anchor="end" style="font-family:&quot;Liberation Sans&quot;,Arial,sans-serif;font-weight:bold;font-size:36px">0.20</text>
<text transform="translate(116.95,192.23) scale(1.0220,0.9900)" text-anchor="end" style="font-family:&quot;Liberation Sans&quot;,Arial,sans-serif;font-weight:bold;font-size:36px">0.25</text>
<text transform="translate(116.95,110.01) scale(1.0220,0.9900)" text-anchor="end" style="font-family:&quot;Liberation Sans&quot;,Arial,sans-serif;font-weight:bold;font-size:36px">0.30</text>
<text transform="translate(116.95,27.80) scale(1.0220,0.9900)" text-anchor="end" style="font-family:&quot;Liberation Sans&quot;,Arial,sans-serif;font-weight:bold;font-size:36px">0.35</text>
<text transform="translate(129.00,632.40) scale(1.0150,1.0000)" text-anchor="middle" style="font-family:&quot;Liberation Sans&quot;,Arial,sans-serif;font-weight:bold;font-size:36px">0.0</text>
<text transform="translate(235.00,632.40) scale(1.0150,1.0000)" text-anchor="middle" style="font-family:&quot;Liberation Sans&quot;,Arial,sans-serif;font-weight:bold;font-size:36px">0.1</text>
<text transform="translate(341.00,632.40) scale(1.0150,1.0000)" text-anchor="middle" style="font-family:&quot;Liberation Sans&quot;,Arial,sans-serif;font-weight:bold;font-size:36px">0.2</text>
<text transform="translate(447.00,632.40) scale(1.0150,1.0000)" text-anchor="middle" style="font-family:&quot;Liberation Sans&quot;,Arial,sans-serif;font-weight:bold;font-size:36px">0.3</text>
<text transform="translate(553.00,632.40) scale(1.0150,1.0000)" text-anchor="middle" style="font-family:&quot;Liberation Sans&quot;,Arial,sans-serif;font-weight:bold;font-size:36px">0.4</text>
<text transform="translate(659.00,632.40) scale(1.0150,1.0000)" text-anchor="middle" style="font-family:&quot;Liberation Sans&quot;,Arial,sans-serif;font-weight:bold;font-size:36px">0.5</text>
<text transform="translate(765.00,632.40) scale(1.0150,1.0000)" text-anchor="middle" style="font-family:&quot;Liberation Sans&quot;,Arial,sans-serif;font-weight:bold;font-size:36px">0.6</text>
<text transform="translate(871.00,632.40) scale(1.0150,1.0000)" text-anchor="middle" style="font-family:&quot;Liberation Sans&quot;,Arial,sans-serif;font-weight:bold;font-size:36px">0.7</text>
<text transform="translate(327.89,668.22) scale(1.0447,0.9755)" text-anchor="start" style="font-family:&quot;Liberation Serif&quot;,&quot;Times New Roman&quot;,serif;font-weight:bold;font-size:35px">Gate Voltage, V<tspan dy="9" font-size="25.5px">GS</tspan><tspan dy="-9"> (V)</tspan></text>
<text transform="translate(28.60,304.25) scale(1.0027,1.0047) rotate(-90)" text-anchor="middle" style="font-family:&quot;Liberation Serif&quot;,&quot;Times New Roman&quot;,serif;font-weight:bold;font-size:35px">C<tspan dy="9" font-size="25px">gg</tspan><tspan dy="-9"> (fF)</tspan></text>
<text transform="translate(455.99,170.44) scale(1.0304,1.0435)" text-anchor="start" style="font-family:&quot;Liberation Serif&quot;,&quot;Times New Roman&quot;,serif;font-weight:bold;font-size:35px">N<tspan dy="9" font-size="25px">T</tspan><tspan dy="-9"> = 5 nm</tspan></text>
<text transform="translate(217.09,94.93) scale(1.0847,1.0545)" text-anchor="start" style="font-family:&quot;Liberation Sans&quot;,Arial,sans-serif;font-size:35px">N</text>
<text transform="translate(244.22,104.68) scale(1.1265,1.0217)" text-anchor="start" style="font-family:&quot;Liberation Sans&quot;,Arial,sans-serif;font-size:24.6px">W</text>
<line x1="203.2" y1="125.8" x2="284.1" y2="125.8" stroke="#1c0088" stroke-width="3.8" stroke-linecap="round"/>
<ellipse cx="243.5" cy="126.2" rx="5.7" ry="6.5" fill="url(#g_navy)"/>
<text transform="translate(295.31,138.30) scale(1.0253,1.0107)" text-anchor="start" style="font-family:&quot;Liberation Sans&quot;,Arial,sans-serif;font-size:36px">10 nm</text>
<line x1="203.2" y1="169.1" x2="284.1" y2="169.1" stroke="#0000ee" stroke-width="3.8" stroke-linecap="round"/>
<ellipse cx="243.5" cy="169.5" rx="5.7" ry="6.5" fill="url(#g_red)"/>
<text transform="translate(295.31,181.40) scale(1.0253,1.0107)" text-anchor="start" style="font-family:&quot;Liberation Sans&quot;,Arial,sans-serif;font-size:36px">20 nm</text>
<line x1="203.2" y1="212.3" x2="284.1" y2="212.3" stroke="#14b414" stroke-width="3.8" stroke-linecap="round"/>
<ellipse cx="243.5" cy="212.7" rx="5.7" ry="6.5" fill="url(#g_green)"/>
<text transform="translate(295.31,224.50) scale(1.0253,1.0107)" text-anchor="start" style="font-family:&quot;Liberation Sans&quot;,Arial,sans-serif;font-size:36px">30 nm</text>
<line x1="203.2" y1="255.6" x2="284.1" y2="255.6" stroke="#ffe100" stroke-width="3.8" stroke-linecap="round"/>
<ellipse cx="243.5" cy="256.0" rx="5.7" ry="6.5" fill="url(#g_yellow)"/>
<text transform="translate(295.31,267.60) scale(1.0253,1.0107)" text-anchor="start" style="font-family:&quot;Liberation Sans&quot;,Arial,sans-serif;font-size:36px">40 nm</text>
<line x1="203.2" y1="298.8" x2="284.1" y2="298.8" stroke="#ff4a00" stroke-width="3.8" stroke-linecap="round"/>
<ellipse cx="243.5" cy="299.2" rx="5.7" ry="6.5" fill="url(#g_orange)"/>
<text transform="translate(295.31,310.70) scale(1.0253,1.0107)" text-anchor="start" style="font-family:&quot;Liberation Sans&quot;,Arial,sans-serif;font-size:36px">50 nm</text>
<text transform="translate(347.50,738.65) scale(0.9583,0.9633)" text-anchor="start" style="font-family:&quot;Liberation Serif&quot;,&quot;Times New Roman&quot;,serif;font-size:48px">(a)</text>
<rect x="1077.5" y="15.2" width="717.0" height="585.3" fill="none" stroke="#000" stroke-width="4.0" stroke-linejoin="miter"/><path d="M1128.71 600.5V594.5M1128.71 15.2V21.2M1179.93 600.5V589.9M1179.93 15.2V25.799999999999997M1231.14 600.5V594.5M1231.14 15.2V21.2M1282.36 600.5V589.9M1282.36 15.2V25.799999999999997M1333.57 600.5V594.5M1333.57 15.2V21.2M1384.79 600.5V589.9M1384.79 15.2V25.799999999999997M1436.00 600.5V594.5M1436.00 15.2V21.2M1487.21 600.5V589.9M1487.21 15.2V25.799999999999997M1538.43 600.5V594.5M1538.43 15.2V21.2M1589.64 600.5V589.9M1589.64 15.2V25.799999999999997M1640.86 600.5V594.5M1640.86 15.2V21.2M1692.07 600.5V589.9M1692.07 15.2V25.799999999999997M1743.29 600.5V594.5M1743.29 15.2V21.2M1077.5 563.92H1089.2M1794.5 563.92H1782.8M1077.5 490.76H1089.2M1794.5 490.76H1782.8M1077.5 417.59H1089.2M1794.5 417.59H1782.8M1077.5 344.43H1089.2M1794.5 344.43H1782.8M1077.5 271.27H1089.2M1794.5 271.27H1782.8M1077.5 198.11H1089.2M1794.5 198.11H1782.8M1077.5 124.94H1089.2M1794.5 124.94H1782.8M1077.5 51.78H1089.2M1794.5 51.78H1782.8M1077.5 527.34H1083.3M1794.5 527.34H1788.7M1077.5 454.18H1083.3M1794.5 454.18H1788.7M1077.5 381.01H1083.3M1794.5 381.01H1788.7M1077.5 307.85H1083.3M1794.5 307.85H1788.7M1077.5 234.69H1083.3M1794.5 234.69H1788.7M1077.5 161.53H1083.3M1794.5 161.53H1788.7M1077.5 88.36H1083.3M1794.5 88.36H1788.7" stroke="#000" stroke-width="4.0" fill="none"/>
<g clip-path="url(#cb)"><polyline points="1077.50,584.77 1087.74,584.71 1097.99,584.66 1108.23,584.60 1118.47,584.55 1128.71,584.49 1138.96,584.44 1149.20,584.38 1159.44,584.33 1169.69,584.27 1179.93,584.22 1190.17,584.16 1200.41,584.11 1210.66,584.05 1220.90,583.99 1231.14,583.94 1241.39,583.88 1251.63,583.83 1261.87,583.77 1272.11,583.72 1282.36,583.66 1292.60,583.59 1302.84,583.53 1313.09,583.47 1323.33,583.40 1333.57,583.33 1343.81,583.27 1354.06,583.20 1364.30,583.13 1374.54,583.07 1384.79,582.99 1395.03,582.92 1405.27,582.86 1415.51,582.79 1425.76,582.71 1436.00,582.60 1446.24,582.46 1456.49,582.27 1466.73,582.01 1476.97,581.89 1487.21,581.59 1497.46,580.90 1507.70,579.93 1517.94,578.60 1528.19,576.89 1538.43,574.68 1548.67,571.58 1558.91,567.39 1569.16,562.02 1579.40,555.59 1589.64,548.57 1599.89,541.35 1610.13,533.81 1620.37,525.72 1630.61,517.25 1640.86,508.78 1651.10,500.32 1661.34,492.18 1671.59,484.58 1681.83,477.71 1692.07,471.64 1702.31,466.13 1712.56,461.04 1722.80,456.42 1733.04,452.45 1743.29,449.27 1753.53,446.89 1763.77,445.13 1774.01,443.74 1784.26,442.46 1794.50,441.26" fill="none" stroke="#1c0088" stroke-width="3.4" stroke-linejoin="round"/><circle cx="1077.50" cy="584.77" r="6.9" fill="url(#g_navy)"/><circle cx="1087.74" cy="584.71" r="6.9" fill="url(#g_navy)"/><circle cx="1097.99" cy="584.66" r="6.9" fill="url(#g_navy)"/><circle cx="1108.23" cy="584.60" r="6.9" fill="url(#g_navy)"/><circle cx="1118.47" cy="584.55" r="6.9" fill="url(#g_navy)"/><circle cx="1128.71" cy="584.49" r="6.9" fill="url(#g_navy)"/><circle cx="1138.96" cy="584.44" r="6.9" fill="url(#g_navy)"/><circle cx="1149.20" cy="584.38" r="6.9" fill="url(#g_navy)"/><circle cx="1159.44" cy="584.33" r="6.9" fill="url(#g_navy)"/><circle cx="1169.69" cy="584.27" r="6.9" fill="url(#g_navy)"/><circle cx="1179.93" cy="584.22" r="6.9" fill="url(#g_navy)"/><circle cx="1190.17" cy="584.16" r="6.9" fill="url(#g_navy)"/><circle cx="1200.41" cy="584.11" r="6.9" fill="url(#g_navy)"/><circle cx="1210.66" cy="584.05" r="6.9" fill="url(#g_navy)"/><circle cx="1220.90" cy="583.99" r="6.9" fill="url(#g_navy)"/><circle cx="1231.14" cy="583.94" r="6.9" fill="url(#g_navy)"/><circle cx="1241.39" cy="583.88" r="6.9" fill="url(#g_navy)"/><circle cx="1251.63" cy="583.83" r="6.9" fill="url(#g_navy)"/><circle cx="1261.87" cy="583.77" r="6.9" fill="url(#g_navy)"/><circle cx="1272.11" cy="583.72" r="6.9" fill="url(#g_navy)"/><circle cx="1282.36" cy="583.66" r="6.9" fill="url(#g_navy)"/><circle cx="1292.60" cy="583.59" r="6.9" fill="url(#g_navy)"/><circle cx="1302.84" cy="583.53" r="6.9" fill="url(#g_navy)"/><circle cx="1313.09" cy="583.47" r="6.9" fill="url(#g_navy)"/><circle cx="1323.33" cy="583.40" r="6.9" fill="url(#g_navy)"/><circle cx="1333.57" cy="583.33" r="6.9" fill="url(#g_navy)"/><circle cx="1343.81" cy="583.27" r="6.9" fill="url(#g_navy)"/><circle cx="1354.06" cy="583.20" r="6.9" fill="url(#g_navy)"/><circle cx="1364.30" cy="583.13" r="6.9" fill="url(#g_navy)"/><circle cx="1374.54" cy="583.07" r="6.9" fill="url(#g_navy)"/><circle cx="1384.79" cy="582.99" r="6.9" fill="url(#g_navy)"/><circle cx="1395.03" cy="582.92" r="6.9" fill="url(#g_navy)"/><circle cx="1405.27" cy="582.86" r="6.9" fill="url(#g_navy)"/><circle cx="1415.51" cy="582.79" r="6.9" fill="url(#g_navy)"/><circle cx="1425.76" cy="582.71" r="6.9" fill="url(#g_navy)"/><circle cx="1436.00" cy="582.60" r="6.9" fill="url(#g_navy)"/><circle cx="1446.24" cy="582.46" r="6.9" fill="url(#g_navy)"/><circle cx="1456.49" cy="582.27" r="6.9" fill="url(#g_navy)"/><circle cx="1466.73" cy="582.01" r="6.9" fill="url(#g_navy)"/><circle cx="1476.97" cy="581.89" r="6.9" fill="url(#g_navy)"/><circle cx="1487.21" cy="581.59" r="6.9" fill="url(#g_navy)"/><circle cx="1497.46" cy="580.90" r="6.9" fill="url(#g_navy)"/><circle cx="1507.70" cy="579.93" r="6.9" fill="url(#g_navy)"/><circle cx="1517.94" cy="578.60" r="6.9" fill="url(#g_navy)"/><circle cx="1528.19" cy="576.89" r="6.9" fill="url(#g_navy)"/><circle cx="1538.43" cy="574.68" r="6.9" fill="url(#g_navy)"/><circle cx="1548.67" cy="571.58" r="6.9" fill="url(#g_navy)"/><circle cx="1558.91" cy="567.39" r="6.9" fill="url(#g_navy)"/><circle cx="1569.16" cy="562.02" r="6.9" fill="url(#g_navy)"/><circle cx="1579.40" cy="555.59" r="6.9" fill="url(#g_navy)"/><circle cx="1589.64" cy="548.57" r="6.9" fill="url(#g_navy)"/><circle cx="1599.89" cy="541.35" r="6.9" fill="url(#g_navy)"/><circle cx="1610.13" cy="533.81" r="6.9" fill="url(#g_navy)"/><circle cx="1620.37" cy="525.72" r="6.9" fill="url(#g_navy)"/><circle cx="1630.61" cy="517.25" r="6.9" fill="url(#g_navy)"/><circle cx="1640.86" cy="508.78" r="6.9" fill="url(#g_navy)"/><circle cx="1651.10" cy="500.32" r="6.9" fill="url(#g_navy)"/><circle cx="1661.34" cy="492.18" r="6.9" fill="url(#g_navy)"/><circle cx="1671.59" cy="484.58" r="6.9" fill="url(#g_navy)"/><circle cx="1681.83" cy="477.71" r="6.9" fill="url(#g_navy)"/><circle cx="1692.07" cy="471.64" r="6.9" fill="url(#g_navy)"/><circle cx="1702.31" cy="466.13" r="6.9" fill="url(#g_navy)"/><circle cx="1712.56" cy="461.04" r="6.9" fill="url(#g_navy)"/><circle cx="1722.80" cy="456.42" r="6.9" fill="url(#g_navy)"/><circle cx="1733.04" cy="452.45" r="6.9" fill="url(#g_navy)"/><circle cx="1743.29" cy="449.27" r="6.9" fill="url(#g_navy)"/><circle cx="1753.53" cy="446.89" r="6.9" fill="url(#g_navy)"/><circle cx="1763.77" cy="445.13" r="6.9" fill="url(#g_navy)"/><circle cx="1774.01" cy="443.74" r="6.9" fill="url(#g_navy)"/><circle cx="1784.26" cy="442.46" r="6.9" fill="url(#g_navy)"/><circle cx="1794.50" cy="441.26" r="6.9" fill="url(#g_navy)"/></g>
<g clip-path="url(#cb)"><polyline points="1077.50,563.55 1087.74,563.46 1097.99,563.37 1108.23,563.28 1118.47,563.18 1128.71,563.09 1138.96,563.00 1149.20,562.91 1159.44,562.81 1169.69,562.72 1179.93,562.63 1190.17,562.54 1200.41,562.44 1210.66,562.35 1220.90,562.26 1231.14,562.17 1241.39,562.08 1251.63,561.98 1261.87,561.89 1272.11,561.80 1282.36,561.70 1292.60,561.57 1302.84,561.44 1313.09,561.31 1323.33,561.18 1333.57,561.05 1343.81,560.92 1354.06,560.78 1364.30,560.65 1374.54,560.51 1384.79,560.37 1395.03,560.23 1405.27,560.10 1415.51,559.96 1425.76,559.78 1436.00,559.57 1446.24,559.28 1456.49,558.89 1466.73,558.36 1476.97,557.94 1487.21,557.01 1497.46,555.39 1507.70,553.43 1517.94,551.06 1528.19,547.87 1538.43,543.63 1548.67,538.14 1558.91,531.25 1569.16,522.53 1579.40,512.14 1589.64,500.83 1599.89,489.52 1610.13,477.85 1620.37,465.73 1630.61,453.68 1640.86,441.83 1651.10,430.12 1661.34,418.35 1671.59,407.17 1681.83,397.10 1692.07,388.19 1702.31,380.32 1712.56,373.24 1722.80,367.24 1733.04,362.25 1743.29,357.89 1753.53,354.10 1763.77,351.01 1774.01,348.53 1784.26,346.50 1794.50,344.67" fill="none" stroke="#0000ee" stroke-width="3.4" stroke-linejoin="round"/><circle cx="1077.50" cy="563.55" r="6.9" fill="url(#g_blue)"/><circle cx="1087.74" cy="563.46" r="6.9" fill="url(#g_blue)"/><circle cx="1097.99" cy="563.37" r="6.9" fill="url(#g_blue)"/><circle cx="1108.23" cy="563.28" r="6.9" fill="url(#g_blue)"/><circle cx="1118.47" cy="563.18" r="6.9" fill="url(#g_blue)"/><circle cx="1128.71" cy="563.09" r="6.9" fill="url(#g_blue)"/><circle cx="1138.96" cy="563.00" r="6.9" fill="url(#g_blue)"/><circle cx="1149.20" cy="562.91" r="6.9" fill="url(#g_blue)"/><circle cx="1159.44" cy="562.81" r="6.9" fill="url(#g_blue)"/><circle cx="1169.69" cy="562.72" r="6.9" fill="url(#g_blue)"/><circle cx="1179.93" cy="562.63" r="6.9" fill="url(#g_blue)"/><circle cx="1190.17" cy="562.54" r="6.9" fill="url(#g_blue)"/><circle cx="1200.41" cy="562.44" r="6.9" fill="url(#g_blue)"/><circle cx="1210.66" cy="562.35" r="6.9" fill="url(#g_blue)"/><circle cx="1220.90" cy="562.26" r="6.9" fill="url(#g_blue)"/><circle cx="1231.14" cy="562.17" r="6.9" fill="url(#g_blue)"/><circle cx="1241.39" cy="562.08" r="6.9" fill="url(#g_blue)"/><circle cx="1251.63" cy="561.98" r="6.9" fill="url(#g_blue)"/><circle cx="1261.87" cy="561.89" r="6.9" fill="url(#g_blue)"/><circle cx="1272.11" cy="561.80" r="6.9" fill="url(#g_blue)"/><circle cx="1282.36" cy="561.70" r="6.9" fill="url(#g_blue)"/><circle cx="1292.60" cy="561.57" r="6.9" fill="url(#g_blue)"/><circle cx="1302.84" cy="561.44" r="6.9" fill="url(#g_blue)"/><circle cx="1313.09" cy="561.31" r="6.9" fill="url(#g_blue)"/><circle cx="1323.33" cy="561.18" r="6.9" fill="url(#g_blue)"/><circle cx="1333.57" cy="561.05" r="6.9" fill="url(#g_blue)"/><circle cx="1343.81" cy="560.92" r="6.9" fill="url(#g_blue)"/><circle cx="1354.06" cy="560.78" r="6.9" fill="url(#g_blue)"/><circle cx="1364.30" cy="560.65" r="6.9" fill="url(#g_blue)"/><circle cx="1374.54" cy="560.51" r="6.9" fill="url(#g_blue)"/><circle cx="1384.79" cy="560.37" r="6.9" fill="url(#g_blue)"/><circle cx="1395.03" cy="560.23" r="6.9" fill="url(#g_blue)"/><circle cx="1405.27" cy="560.10" r="6.9" fill="url(#g_blue)"/><circle cx="1415.51" cy="559.96" r="6.9" fill="url(#g_blue)"/><circle cx="1425.76" cy="559.78" r="6.9" fill="url(#g_blue)"/><circle cx="1436.00" cy="559.57" r="6.9" fill="url(#g_blue)"/><circle cx="1446.24" cy="559.28" r="6.9" fill="url(#g_blue)"/><circle cx="1456.49" cy="558.89" r="6.9" fill="url(#g_blue)"/><circle cx="1466.73" cy="558.36" r="6.9" fill="url(#g_blue)"/><circle cx="1476.97" cy="557.94" r="6.9" fill="url(#g_blue)"/><circle cx="1487.21" cy="557.01" r="6.9" fill="url(#g_blue)"/><circle cx="1497.46" cy="555.39" r="6.9" fill="url(#g_blue)"/><circle cx="1507.70" cy="553.43" r="6.9" fill="url(#g_blue)"/><circle cx="1517.94" cy="551.06" r="6.9" fill="url(#g_blue)"/><circle cx="1528.19" cy="547.87" r="6.9" fill="url(#g_blue)"/><circle cx="1538.43" cy="543.63" r="6.9" fill="url(#g_blue)"/><circle cx="1548.67" cy="538.14" r="6.9" fill="url(#g_blue)"/><circle cx="1558.91" cy="531.25" r="6.9" fill="url(#g_blue)"/><circle cx="1569.16" cy="522.53" r="6.9" fill="url(#g_blue)"/><circle cx="1579.40" cy="512.14" r="6.9" fill="url(#g_blue)"/><circle cx="1589.64" cy="500.83" r="6.9" fill="url(#g_blue)"/><circle cx="1599.89" cy="489.52" r="6.9" fill="url(#g_blue)"/><circle cx="1610.13" cy="477.85" r="6.9" fill="url(#g_blue)"/><circle cx="1620.37" cy="465.73" r="6.9" fill="url(#g_blue)"/><circle cx="1630.61" cy="453.68" r="6.9" fill="url(#g_blue)"/><circle cx="1640.86" cy="441.83" r="6.9" fill="url(#g_blue)"/><circle cx="1651.10" cy="430.12" r="6.9" fill="url(#g_blue)"/><circle cx="1661.34" cy="418.35" r="6.9" fill="url(#g_blue)"/><circle cx="1671.59" cy="407.17" r="6.9" fill="url(#g_blue)"/><circle cx="1681.83" cy="397.10" r="6.9" fill="url(#g_blue)"/><circle cx="1692.07" cy="388.19" r="6.9" fill="url(#g_blue)"/><circle cx="1702.31" cy="380.32" r="6.9" fill="url(#g_blue)"/><circle cx="1712.56" cy="373.24" r="6.9" fill="url(#g_blue)"/><circle cx="1722.80" cy="367.24" r="6.9" fill="url(#g_blue)"/><circle cx="1733.04" cy="362.25" r="6.9" fill="url(#g_blue)"/><circle cx="1743.29" cy="357.89" r="6.9" fill="url(#g_blue)"/><circle cx="1753.53" cy="354.10" r="6.9" fill="url(#g_blue)"/><circle cx="1763.77" cy="351.01" r="6.9" fill="url(#g_blue)"/><circle cx="1774.01" cy="348.53" r="6.9" fill="url(#g_blue)"/><circle cx="1784.26" cy="346.50" r="6.9" fill="url(#g_blue)"/><circle cx="1794.50" cy="344.67" r="6.9" fill="url(#g_blue)"/></g>
<g clip-path="url(#cb)"><polyline points="1077.50,541.24 1087.74,541.16 1097.99,541.09 1108.23,541.02 1118.47,540.94 1128.71,540.87 1138.96,540.80 1149.20,540.72 1159.44,540.65 1169.69,540.57 1179.93,540.50 1190.17,540.43 1200.41,540.35 1210.66,540.28 1220.90,540.20 1231.14,540.13 1241.39,540.06 1251.63,539.98 1261.87,539.91 1272.11,539.83 1282.36,539.74 1292.60,539.54 1302.84,539.35 1313.09,539.15 1323.33,538.96 1333.57,538.76 1343.81,538.56 1354.06,538.36 1364.30,538.16 1374.54,537.95 1384.79,537.74 1395.03,537.57 1405.27,537.53 1415.51,537.46 1425.76,537.34 1436.00,537.15 1446.24,536.85 1456.49,536.40 1466.73,535.72 1476.97,534.44 1487.21,532.42 1497.46,529.81 1507.70,526.84 1517.94,523.35 1528.19,518.73 1538.43,512.64 1548.67,504.99 1558.91,495.05 1569.16,482.52 1579.40,468.14 1589.64,452.90 1599.89,437.18 1610.13,421.33 1620.37,405.67 1630.61,389.90 1640.86,374.08 1651.10,358.47 1661.34,343.15 1671.59,328.91 1681.83,316.07 1692.07,304.45 1702.31,294.09 1712.56,284.74 1722.80,276.58 1733.04,269.90 1743.29,264.32 1753.53,259.73 1763.77,255.66 1774.01,251.75 1784.26,248.32 1794.50,245.68" fill="none" stroke="#14b414" stroke-width="3.4" stroke-linejoin="round"/><circle cx="1077.50" cy="541.24" r="6.9" fill="url(#g_green)"/><circle cx="1087.74" cy="541.16" r="6.9" fill="url(#g_green)"/><circle cx="1097.99" cy="541.09" r="6.9" fill="url(#g_green)"/><circle cx="1108.23" cy="541.02" r="6.9" fill="url(#g_green)"/><circle cx="1118.47" cy="540.94" r="6.9" fill="url(#g_green)"/><circle cx="1128.71" cy="540.87" r="6.9" fill="url(#g_green)"/><circle cx="1138.96" cy="540.80" r="6.9" fill="url(#g_green)"/><circle cx="1149.20" cy="540.72" r="6.9" fill="url(#g_green)"/><circle cx="1159.44" cy="540.65" r="6.9" fill="url(#g_green)"/><circle cx="1169.69" cy="540.57" r="6.9" fill="url(#g_green)"/><circle cx="1179.93" cy="540.50" r="6.9" fill="url(#g_green)"/><circle cx="1190.17" cy="540.43" r="6.9" fill="url(#g_green)"/><circle cx="1200.41" cy="540.35" r="6.9" fill="url(#g_green)"/><circle cx="1210.66" cy="540.28" r="6.9" fill="url(#g_green)"/><circle cx="1220.90" cy="540.20" r="6.9" fill="url(#g_green)"/><circle cx="1231.14" cy="540.13" r="6.9" fill="url(#g_green)"/><circle cx="1241.39" cy="540.06" r="6.9" fill="url(#g_green)"/><circle cx="1251.63" cy="539.98" r="6.9" fill="url(#g_green)"/><circle cx="1261.87" cy="539.91" r="6.9" fill="url(#g_green)"/><circle cx="1272.11" cy="539.83" r="6.9" fill="url(#g_green)"/><circle cx="1282.36" cy="539.74" r="6.9" fill="url(#g_green)"/><circle cx="1292.60" cy="539.54" r="6.9" fill="url(#g_green)"/><circle cx="1302.84" cy="539.35" r="6.9" fill="url(#g_green)"/><circle cx="1313.09" cy="539.15" r="6.9" fill="url(#g_green)"/><circle cx="1323.33" cy="538.96" r="6.9" fill="url(#g_green)"/><circle cx="1333.57" cy="538.76" r="6.9" fill="url(#g_green)"/><circle cx="1343.81" cy="538.56" r="6.9" fill="url(#g_green)"/><circle cx="1354.06" cy="538.36" r="6.9" fill="url(#g_green)"/><circle cx="1364.30" cy="538.16" r="6.9" fill="url(#g_green)"/><circle cx="1374.54" cy="537.95" r="6.9" fill="url(#g_green)"/><circle cx="1384.79" cy="537.74" r="6.9" fill="url(#g_green)"/><circle cx="1395.03" cy="537.57" r="6.9" fill="url(#g_green)"/><circle cx="1405.27" cy="537.53" r="6.9" fill="url(#g_green)"/><circle cx="1415.51" cy="537.46" r="6.9" fill="url(#g_green)"/><circle cx="1425.76" cy="537.34" r="6.9" fill="url(#g_green)"/><circle cx="1436.00" cy="537.15" r="6.9" fill="url(#g_green)"/><circle cx="1446.24" cy="536.85" r="6.9" fill="url(#g_green)"/><circle cx="1456.49" cy="536.40" r="6.9" fill="url(#g_green)"/><circle cx="1466.73" cy="535.72" r="6.9" fill="url(#g_green)"/><circle cx="1476.97" cy="534.44" r="6.9" fill="url(#g_green)"/><circle cx="1487.21" cy="532.42" r="6.9" fill="url(#g_green)"/><circle cx="1497.46" cy="529.81" r="6.9" fill="url(#g_green)"/><circle cx="1507.70" cy="526.84" r="6.9" fill="url(#g_green)"/><circle cx="1517.94" cy="523.35" r="6.9" fill="url(#g_green)"/><circle cx="1528.19" cy="518.73" r="6.9" fill="url(#g_green)"/><circle cx="1538.43" cy="512.64" r="6.9" fill="url(#g_green)"/><circle cx="1548.67" cy="504.99" r="6.9" fill="url(#g_green)"/><circle cx="1558.91" cy="495.05" r="6.9" fill="url(#g_green)"/><circle cx="1569.16" cy="482.52" r="6.9" fill="url(#g_green)"/><circle cx="1579.40" cy="468.14" r="6.9" fill="url(#g_green)"/><circle cx="1589.64" cy="452.90" r="6.9" fill="url(#g_green)"/><circle cx="1599.89" cy="437.18" r="6.9" fill="url(#g_green)"/><circle cx="1610.13" cy="421.33" r="6.9" fill="url(#g_green)"/><circle cx="1620.37" cy="405.67" r="6.9" fill="url(#g_green)"/><circle cx="1630.61" cy="389.90" r="6.9" fill="url(#g_green)"/><circle cx="1640.86" cy="374.08" r="6.9" fill="url(#g_green)"/><circle cx="1651.10" cy="358.47" r="6.9" fill="url(#g_green)"/><circle cx="1661.34" cy="343.15" r="6.9" fill="url(#g_green)"/><circle cx="1671.59" cy="328.91" r="6.9" fill="url(#g_green)"/><circle cx="1681.83" cy="316.07" r="6.9" fill="url(#g_green)"/><circle cx="1692.07" cy="304.45" r="6.9" fill="url(#g_green)"/><circle cx="1702.31" cy="294.09" r="6.9" fill="url(#g_green)"/><circle cx="1712.56" cy="284.74" r="6.9" fill="url(#g_green)"/><circle cx="1722.80" cy="276.58" r="6.9" fill="url(#g_green)"/><circle cx="1733.04" cy="269.90" r="6.9" fill="url(#g_green)"/><circle cx="1743.29" cy="264.32" r="6.9" fill="url(#g_green)"/><circle cx="1753.53" cy="259.73" r="6.9" fill="url(#g_green)"/><circle cx="1763.77" cy="255.66" r="6.9" fill="url(#g_green)"/><circle cx="1774.01" cy="251.75" r="6.9" fill="url(#g_green)"/><circle cx="1784.26" cy="248.32" r="6.9" fill="url(#g_green)"/><circle cx="1794.50" cy="245.68" r="6.9" fill="url(#g_green)"/></g>
<g clip-path="url(#cb)"><polyline points="1077.50,520.02 1087.74,519.91 1097.99,519.80 1108.23,519.69 1118.47,519.58 1128.71,519.47 1138.96,519.36 1149.20,519.25 1159.44,519.13 1169.69,519.02 1179.93,518.91 1190.17,518.80 1200.41,518.69 1210.66,518.58 1220.90,518.47 1231.14,518.36 1241.39,518.25 1251.63,518.14 1261.87,518.03 1272.11,517.92 1282.36,517.77 1292.60,517.51 1302.84,517.24 1313.09,516.97 1323.33,516.71 1333.57,516.44 1343.81,516.17 1354.06,515.91 1364.30,515.64 1374.54,515.37 1384.79,515.09 1395.03,514.85 1405.27,514.66 1415.51,514.45 1425.76,514.21 1436.00,513.90 1446.24,513.49 1456.49,512.92 1466.73,512.09 1476.97,510.50 1487.21,508.18 1497.46,505.21 1507.70,501.85 1517.94,497.44 1528.19,491.12 1538.43,482.69 1548.67,472.09 1558.91,459.18 1569.16,443.60 1579.40,425.49 1589.64,406.28 1599.89,386.45 1610.13,366.07 1620.37,346.05 1630.61,326.24 1640.86,306.34 1651.10,286.73 1661.34,268.29 1671.59,251.19 1681.83,235.04 1692.07,220.76 1702.31,208.70 1712.56,197.75 1722.80,187.81 1733.04,179.41 1743.29,171.78 1753.53,164.92 1763.77,159.28 1774.01,154.03 1784.26,149.45 1794.50,145.84" fill="none" stroke="#ffe100" stroke-width="3.4" stroke-linejoin="round"/><circle cx="1077.50" cy="520.02" r="6.9" fill="url(#g_yellow)"/><circle cx="1087.74" cy="519.91" r="6.9" fill="url(#g_yellow)"/><circle cx="1097.99" cy="519.80" r="6.9" fill="url(#g_yellow)"/><circle cx="1108.23" cy="519.69" r="6.9" fill="url(#g_yellow)"/><circle cx="1118.47" cy="519.58" r="6.9" fill="url(#g_yellow)"/><circle cx="1128.71" cy="519.47" r="6.9" fill="url(#g_yellow)"/><circle cx="1138.96" cy="519.36" r="6.9" fill="url(#g_yellow)"/><circle cx="1149.20" cy="519.25" r="6.9" fill="url(#g_yellow)"/><circle cx="1159.44" cy="519.13" r="6.9" fill="url(#g_yellow)"/><circle cx="1169.69" cy="519.02" r="6.9" fill="url(#g_yellow)"/><circle cx="1179.93" cy="518.91" r="6.9" fill="url(#g_yellow)"/><circle cx="1190.17" cy="518.80" r="6.9" fill="url(#g_yellow)"/><circle cx="1200.41" cy="518.69" r="6.9" fill="url(#g_yellow)"/><circle cx="1210.66" cy="518.58" r="6.9" fill="url(#g_yellow)"/><circle cx="1220.90" cy="518.47" r="6.9" fill="url(#g_yellow)"/><circle cx="1231.14" cy="518.36" r="6.9" fill="url(#g_yellow)"/><circle cx="1241.39" cy="518.25" r="6.9" fill="url(#g_yellow)"/><circle cx="1251.63" cy="518.14" r="6.9" fill="url(#g_yellow)"/><circle cx="1261.87" cy="518.03" r="6.9" fill="url(#g_yellow)"/><circle cx="1272.11" cy="517.92" r="6.9" fill="url(#g_yellow)"/><circle cx="1282.36" cy="517.77" r="6.9" fill="url(#g_yellow)"/><circle cx="1292.60" cy="517.51" r="6.9" fill="url(#g_yellow)"/><circle cx="1302.84" cy="517.24" r="6.9" fill="url(#g_yellow)"/><circle cx="1313.09" cy="516.97" r="6.9" fill="url(#g_yellow)"/><circle cx="1323.33" cy="516.71" r="6.9" fill="url(#g_yellow)"/><circle cx="1333.57" cy="516.44" r="6.9" fill="url(#g_yellow)"/><circle cx="1343.81" cy="516.17" r="6.9" fill="url(#g_yellow)"/><circle cx="1354.06" cy="515.91" r="6.9" fill="url(#g_yellow)"/><circle cx="1364.30" cy="515.64" r="6.9" fill="url(#g_yellow)"/><circle cx="1374.54" cy="515.37" r="6.9" fill="url(#g_yellow)"/><circle cx="1384.79" cy="515.09" r="6.9" fill="url(#g_yellow)"/><circle cx="1395.03" cy="514.85" r="6.9" fill="url(#g_yellow)"/><circle cx="1405.27" cy="514.66" r="6.9" fill="url(#g_yellow)"/><circle cx="1415.51" cy="514.45" r="6.9" fill="url(#g_yellow)"/><circle cx="1425.76" cy="514.21" r="6.9" fill="url(#g_yellow)"/><circle cx="1436.00" cy="513.90" r="6.9" fill="url(#g_yellow)"/><circle cx="1446.24" cy="513.49" r="6.9" fill="url(#g_yellow)"/><circle cx="1456.49" cy="512.92" r="6.9" fill="url(#g_yellow)"/><circle cx="1466.73" cy="512.09" r="6.9" fill="url(#g_yellow)"/><circle cx="1476.97" cy="510.50" r="6.9" fill="url(#g_yellow)"/><circle cx="1487.21" cy="508.18" r="6.9" fill="url(#g_yellow)"/><circle cx="1497.46" cy="505.21" r="6.9" fill="url(#g_yellow)"/><circle cx="1507.70" cy="501.85" r="6.9" fill="url(#g_yellow)"/><circle cx="1517.94" cy="497.44" r="6.9" fill="url(#g_yellow)"/><circle cx="1528.19" cy="491.12" r="6.9" fill="url(#g_yellow)"/><circle cx="1538.43" cy="482.69" r="6.9" fill="url(#g_yellow)"/><circle cx="1548.67" cy="472.09" r="6.9" fill="url(#g_yellow)"/><circle cx="1558.91" cy="459.18" r="6.9" fill="url(#g_yellow)"/><circle cx="1569.16" cy="443.60" r="6.9" fill="url(#g_yellow)"/><circle cx="1579.40" cy="425.49" r="6.9" fill="url(#g_yellow)"/><circle cx="1589.64" cy="406.28" r="6.9" fill="url(#g_yellow)"/><circle cx="1599.89" cy="386.45" r="6.9" fill="url(#g_yellow)"/><circle cx="1610.13" cy="366.07" r="6.9" fill="url(#g_yellow)"/><circle cx="1620.37" cy="346.05" r="6.9" fill="url(#g_yellow)"/><circle cx="1630.61" cy="326.24" r="6.9" fill="url(#g_yellow)"/><circle cx="1640.86" cy="306.34" r="6.9" fill="url(#g_yellow)"/><circle cx="1651.10" cy="286.73" r="6.9" fill="url(#g_yellow)"/><circle cx="1661.34" cy="268.29" r="6.9" fill="url(#g_yellow)"/><circle cx="1671.59" cy="251.19" r="6.9" fill="url(#g_yellow)"/><circle cx="1681.83" cy="235.04" r="6.9" fill="url(#g_yellow)"/><circle cx="1692.07" cy="220.76" r="6.9" fill="url(#g_yellow)"/><circle cx="1702.31" cy="208.70" r="6.9" fill="url(#g_yellow)"/><circle cx="1712.56" cy="197.75" r="6.9" fill="url(#g_yellow)"/><circle cx="1722.80" cy="187.81" r="6.9" fill="url(#g_yellow)"/><circle cx="1733.04" cy="179.41" r="6.9" fill="url(#g_yellow)"/><circle cx="1743.29" cy="171.78" r="6.9" fill="url(#g_yellow)"/><circle cx="1753.53" cy="164.92" r="6.9" fill="url(#g_yellow)"/><circle cx="1763.77" cy="159.28" r="6.9" fill="url(#g_yellow)"/><circle cx="1774.01" cy="154.03" r="6.9" fill="url(#g_yellow)"/><circle cx="1784.26" cy="149.45" r="6.9" fill="url(#g_yellow)"/><circle cx="1794.50" cy="145.84" r="6.9" fill="url(#g_yellow)"/></g>
<g clip-path="url(#cb)"><polyline points="1077.50,498.44 1087.74,498.35 1097.99,498.26 1108.23,498.16 1118.47,498.07 1128.71,497.98 1138.96,497.89 1149.20,497.80 1159.44,497.71 1169.69,497.62 1179.93,497.52 1190.17,497.43 1200.41,497.34 1210.66,497.25 1220.90,497.16 1231.14,497.07 1241.39,496.98 1251.63,496.88 1261.87,496.79 1272.11,496.70 1282.36,496.61 1292.60,496.24 1302.84,495.86 1313.09,495.49 1323.33,495.12 1333.57,494.74 1343.81,494.37 1354.06,493.99 1364.30,493.62 1374.54,493.24 1384.79,492.86 1395.03,492.43 1405.27,491.89 1415.51,491.32 1425.76,490.72 1436.00,490.03 1446.24,489.22 1456.49,488.21 1466.73,486.92 1476.97,485.34 1487.21,482.82 1497.46,479.73 1507.70,476.25 1517.94,471.11 1528.19,463.07 1538.43,452.67 1548.67,439.73 1558.91,423.50 1569.16,403.81 1579.40,381.64 1589.64,357.93 1599.89,333.62 1610.13,309.95 1620.37,286.55 1630.61,262.61 1640.86,238.34 1651.10,215.44 1661.34,193.55 1671.59,172.62 1681.83,153.54 1692.07,136.43 1702.31,121.72 1712.56,108.88 1722.80,97.13 1733.04,86.95 1743.29,77.85 1753.53,70.63 1763.77,64.89 1774.01,59.33 1784.26,54.55 1794.50,50.51" fill="none" stroke="#ff4a00" stroke-width="3.4" stroke-linejoin="round"/><circle cx="1077.50" cy="498.44" r="6.9" fill="url(#g_orange)"/><circle cx="1087.74" cy="498.35" r="6.9" fill="url(#g_orange)"/><circle cx="1097.99" cy="498.26" r="6.9" fill="url(#g_orange)"/><circle cx="1108.23" cy="498.16" r="6.9" fill="url(#g_orange)"/><circle cx="1118.47" cy="498.07" r="6.9" fill="url(#g_orange)"/><circle cx="1128.71" cy="497.98" r="6.9" fill="url(#g_orange)"/><circle cx="1138.96" cy="497.89" r="6.9" fill="url(#g_orange)"/><circle cx="1149.20" cy="497.80" r="6.9" fill="url(#g_orange)"/><circle cx="1159.44" cy="497.71" r="6.9" fill="url(#g_orange)"/><circle cx="1169.69" cy="497.62" r="6.9" fill="url(#g_orange)"/><circle cx="1179.93" cy="497.52" r="6.9" fill="url(#g_orange)"/><circle cx="1190.17" cy="497.43" r="6.9" fill="url(#g_orange)"/><circle cx="1200.41" cy="497.34" r="6.9" fill="url(#g_orange)"/><circle cx="1210.66" cy="497.25" r="6.9" fill="url(#g_orange)"/><circle cx="1220.90" cy="497.16" r="6.9" fill="url(#g_orange)"/><circle cx="1231.14" cy="497.07" r="6.9" fill="url(#g_orange)"/><circle cx="1241.39" cy="496.98" r="6.9" fill="url(#g_orange)"/><circle cx="1251.63" cy="496.88" r="6.9" fill="url(#g_orange)"/><circle cx="1261.87" cy="496.79" r="6.9" fill="url(#g_orange)"/><circle cx="1272.11" cy="496.70" r="6.9" fill="url(#g_orange)"/><circle cx="1282.36" cy="496.61" r="6.9" fill="url(#g_orange)"/><circle cx="1292.60" cy="496.24" r="6.9" fill="url(#g_orange)"/><circle cx="1302.84" cy="495.86" r="6.9" fill="url(#g_orange)"/><circle cx="1313.09" cy="495.49" r="6.9" fill="url(#g_orange)"/><circle cx="1323.33" cy="495.12" r="6.9" fill="url(#g_orange)"/><circle cx="1333.57" cy="494.74" r="6.9" fill="url(#g_orange)"/><circle cx="1343.81" cy="494.37" r="6.9" fill="url(#g_orange)"/><circle cx="1354.06" cy="493.99" r="6.9" fill="url(#g_orange)"/><circle cx="1364.30" cy="493.62" r="6.9" fill="url(#g_orange)"/><circle cx="1374.54" cy="493.24" r="6.9" fill="url(#g_orange)"/><circle cx="1384.79" cy="492.86" r="6.9" fill="url(#g_orange)"/><circle cx="1395.03" cy="492.43" r="6.9" fill="url(#g_orange)"/><circle cx="1405.27" cy="491.89" r="6.9" fill="url(#g_orange)"/><circle cx="1415.51" cy="491.32" r="6.9" fill="url(#g_orange)"/><circle cx="1425.76" cy="490.72" r="6.9" fill="url(#g_orange)"/><circle cx="1436.00" cy="490.03" r="6.9" fill="url(#g_orange)"/><circle cx="1446.24" cy="489.22" r="6.9" fill="url(#g_orange)"/><circle cx="1456.49" cy="488.21" r="6.9" fill="url(#g_orange)"/><circle cx="1466.73" cy="486.92" r="6.9" fill="url(#g_orange)"/><circle cx="1476.97" cy="485.34" r="6.9" fill="url(#g_orange)"/><circle cx="1487.21" cy="482.82" r="6.9" fill="url(#g_orange)"/><circle cx="1497.46" cy="479.73" r="6.9" fill="url(#g_orange)"/><circle cx="1507.70" cy="476.25" r="6.9" fill="url(#g_orange)"/><circle cx="1517.94" cy="471.11" r="6.9" fill="url(#g_orange)"/><circle cx="1528.19" cy="463.07" r="6.9" fill="url(#g_orange)"/><circle cx="1538.43" cy="452.67" r="6.9" fill="url(#g_orange)"/><circle cx="1548.67" cy="439.73" r="6.9" fill="url(#g_orange)"/><circle cx="1558.91" cy="423.50" r="6.9" fill="url(#g_orange)"/><circle cx="1569.16" cy="403.81" r="6.9" fill="url(#g_orange)"/><circle cx="1579.40" cy="381.64" r="6.9" fill="url(#g_orange)"/><circle cx="1589.64" cy="357.93" r="6.9" fill="url(#g_orange)"/><circle cx="1599.89" cy="333.62" r="6.9" fill="url(#g_orange)"/><circle cx="1610.13" cy="309.95" r="6.9" fill="url(#g_orange)"/><circle cx="1620.37" cy="286.55" r="6.9" fill="url(#g_orange)"/><circle cx="1630.61" cy="262.61" r="6.9" fill="url(#g_orange)"/><circle cx="1640.86" cy="238.34" r="6.9" fill="url(#g_orange)"/><circle cx="1651.10" cy="215.44" r="6.9" fill="url(#g_orange)"/><circle cx="1661.34" cy="193.55" r="6.9" fill="url(#g_orange)"/><circle cx="1671.59" cy="172.62" r="6.9" fill="url(#g_orange)"/><circle cx="1681.83" cy="153.54" r="6.9" fill="url(#g_orange)"/><circle cx="1692.07" cy="136.43" r="6.9" fill="url(#g_orange)"/><circle cx="1702.31" cy="121.72" r="6.9" fill="url(#g_orange)"/><circle cx="1712.56" cy="108.88" r="6.9" fill="url(#g_orange)"/><circle cx="1722.80" cy="97.13" r="6.9" fill="url(#g_orange)"/><circle cx="1733.04" cy="86.95" r="6.9" fill="url(#g_orange)"/><circle cx="1743.29" cy="77.85" r="6.9" fill="url(#g_orange)"/><circle cx="1753.53" cy="70.63" r="6.9" fill="url(#g_orange)"/><circle cx="1763.77" cy="64.89" r="6.9" fill="url(#g_orange)"/><circle cx="1774.01" cy="59.33" r="6.9" fill="url(#g_orange)"/><circle cx="1784.26" cy="54.55" r="6.9" fill="url(#g_orange)"/><circle cx="1794.50" cy="50.51" r="6.9" fill="url(#g_orange)"/></g>
<text transform="translate(1065.80,575.02) scale(0.9950,1.0320)" text-anchor="end" style="font-family:&quot;Liberation Sans&quot;,Arial,sans-serif;font-weight:bold;font-size:36px">0.02</text>
<text transform="translate(1065.80,501.86) scale(0.9950,1.0320)" text-anchor="end" style="font-family:&quot;Liberation Sans&quot;,Arial,sans-serif;font-weight:bold;font-size:36px">0.04</text>
<text transform="translate(1065.80,428.69) scale(0.9950,1.0320)" text-anchor="end" style="font-family:&quot;Liberation Sans&quot;,Arial,sans-serif;font-weight:bold;font-size:36px">0.06</text>
<text transform="translate(1065.80,355.53) scale(0.9950,1.0320)" text-anchor="end" style="font-family:&quot;Liberation Sans&quot;,Arial,sans-serif;font-weight:bold;font-size:36px">0.08</text>
<text transform="translate(1065.80,282.37) scale(0.9950,1.0320)" text-anchor="end" style="font-family:&quot;Liberation Sans&quot;,Arial,sans-serif;font-weight:bold;font-size:36px">0.10</text>
<text transform="translate(1065.80,209.21) scale(0.9950,1.0320)" text-anchor="end" style="font-family:&quot;Liberation Sans&quot;,Arial,sans-serif;font-weight:bold;font-size:36px">0.12</text>
<text transform="translate(1065.80,136.04) scale(0.9950,1.0320)" text-anchor="end" style="font-family:&quot;Liberation Sans&quot;,Arial,sans-serif;font-weight:bold;font-size:36px">0.14</text>
<text transform="translate(1065.80,62.88) scale(0.9950,1.0320)" text-anchor="end" style="font-family:&quot;Liberation Sans&quot;,Arial,sans-serif;font-weight:bold;font-size:36px">0.16</text>
<text transform="translate(1077.10,642.00) scale(1.0000,1.0400)" text-anchor="middle" style="font-family:&quot;Liberation Sans&quot;,Arial,sans-serif;font-weight:bold;font-size:36px">0.0</text>
<text transform="translate(1179.53,642.00) scale(1.0000,1.0400)" text-anchor="middle" style="font-family:&quot;Liberation Sans&quot;,Arial,sans-serif;font-weight:bold;font-size:36px">0.1</text>
<text transform="translate(1281.96,642.00) scale(1.0000,1.0400)" text-anchor="middle" style="font-family:&quot;Liberation Sans&quot;,Arial,sans-serif;font-weight:bold;font-size:36px">0.2</text>
<text transform="translate(1384.39,642.00) scale(1.0000,1.0400)" text-anchor="middle" style="font-family:&quot;Liberation Sans&quot;,Arial,sans-serif;font-weight:bold;font-size:36px">0.3</text>
<text transform="translate(1486.81,642.00) scale(1.0000,1.0400)" text-anchor="middle" style="font-family:&quot;Liberation Sans&quot;,Arial,sans-serif;font-weight:bold;font-size:36px">0.4</text>
<text transform="translate(1589.24,642.00) scale(1.0000,1.0400)" text-anchor="middle" style="font-family:&quot;Liberation Sans&quot;,Arial,sans-serif;font-weight:bold;font-size:36px">0.5</text>
<text transform="translate(1691.67,642.00) scale(1.0000,1.0400)" text-anchor="middle" style="font-family:&quot;Liberation Sans&quot;,Arial,sans-serif;font-weight:bold;font-size:36px">0.6</text>
<text transform="translate(1794.10,642.00) scale(1.0000,1.0400)" text-anchor="middle" style="font-family:&quot;Liberation Sans&quot;,Arial,sans-serif;font-weight:bold;font-size:36px">0.7</text>
<text transform="translate(1257.46,683.18) scale(0.9983,1.0135)" text-anchor="start" style="font-family:&quot;Liberation Serif&quot;,&quot;Times New Roman&quot;,serif;font-weight:bold;font-size:38px">Gate Voltage, V<tspan dy="9.5" font-size="27.5px">GS</tspan><tspan dy="-9.5"> (V)</tspan></text>
<text transform="translate(978.24,307.06) scale(0.9597,1.0035) rotate(-90)" text-anchor="middle" style="font-family:&quot;Liberation Serif&quot;,&quot;Times New Roman&quot;,serif;font-weight:bold;font-size:35px">C<tspan dy="9" font-size="25px">gd</tspan><tspan dy="-9"> (fF)</tspan></text>
<text transform="translate(1235.08,408.20) scale(1.0180,1.0866)" text-anchor="start" style="font-family:&quot;Liberation Serif&quot;,&quot;Times New Roman&quot;,serif;font-weight:bold;font-size:37px">N<tspan dy="9.5" font-size="26px">T</tspan><tspan dy="-9.5"> = 5 nm</tspan></text>
<text transform="translate(1205.14,100.07) scale(1.0601,1.0545)" text-anchor="start" style="font-family:&quot;Liberation Sans&quot;,Arial,sans-serif;font-size:35px">N</text>
<text transform="translate(1233.01,109.79) scale(1.0234,1.0348)" text-anchor="start" style="font-family:&quot;Liberation Sans&quot;,Arial,sans-serif;font-size:25.4px">W</text>
<line x1="1198.1" y1="124.1" x2="1275.8" y2="124.1" stroke="#1c0088" stroke-width="4.2" stroke-linecap="round"/>
<circle cx="1236.9" cy="123.8" r="7.8" fill="url(#g_navy)"/>
<text transform="translate(1286.71,135.81) scale(0.9805,1.0211)" text-anchor="start" style="font-family:&quot;Liberation Sans&quot;,Arial,sans-serif;font-size:36px">10 nm</text>
<line x1="1198.1" y1="168.0" x2="1275.8" y2="168.0" stroke="#0000ee" stroke-width="4.2" stroke-linecap="round"/>
<circle cx="1236.9" cy="167.7" r="7.8" fill="url(#g_blue)"/>
<text transform="translate(1286.71,179.81) scale(0.9805,1.0211)" text-anchor="start" style="font-family:&quot;Liberation Sans&quot;,Arial,sans-serif;font-size:36px">20 nm</text>
<line x1="1198.1" y1="211.9" x2="1275.8" y2="211.9" stroke="#14b414" stroke-width="4.2" stroke-linecap="round"/>
<circle cx="1236.9" cy="211.6" r="7.8" fill="url(#g_green)"/>
<text transform="translate(1286.71,223.81) scale(0.9805,1.0211)" text-anchor="start" style="font-family:&quot;Liberation Sans&quot;,Arial,sans-serif;font-size:36px">30 nm</text>
<line x1="1198.1" y1="255.8" x2="1275.8" y2="255.8" stroke="#ffe100" stroke-width="4.2" stroke-linecap="round"/>
<circle cx="1236.9" cy="255.5" r="7.8" fill="url(#g_yellow)"/>
<text transform="translate(1286.71,267.81) scale(0.9805,1.0211)" text-anchor="start" style="font-family:&quot;Liberation Sans&quot;,Arial,sans-serif;font-size:36px">40 nm</text>
<line x1="1198.1" y1="299.7" x2="1275.8" y2="299.7" stroke="#ff4a00" stroke-width="4.2" stroke-linecap="round"/>
<circle cx="1236.9" cy="299.4" r="7.8" fill="url(#g_orange)"/>
<text transform="translate(1286.71,311.81) scale(0.9805,1.0211)" text-anchor="start" style="font-family:&quot;Liberation Sans&quot;,Arial,sans-serif;font-size:36px">50 nm</text>
<text transform="translate(1280.08,738.88) scale(0.9615,0.9460)" text-anchor="start" style="font-family:&quot;Liberation Serif&quot;,&quot;Times New Roman&quot;,serif;font-size:48px">(b)</text>
</svg></body></html>
